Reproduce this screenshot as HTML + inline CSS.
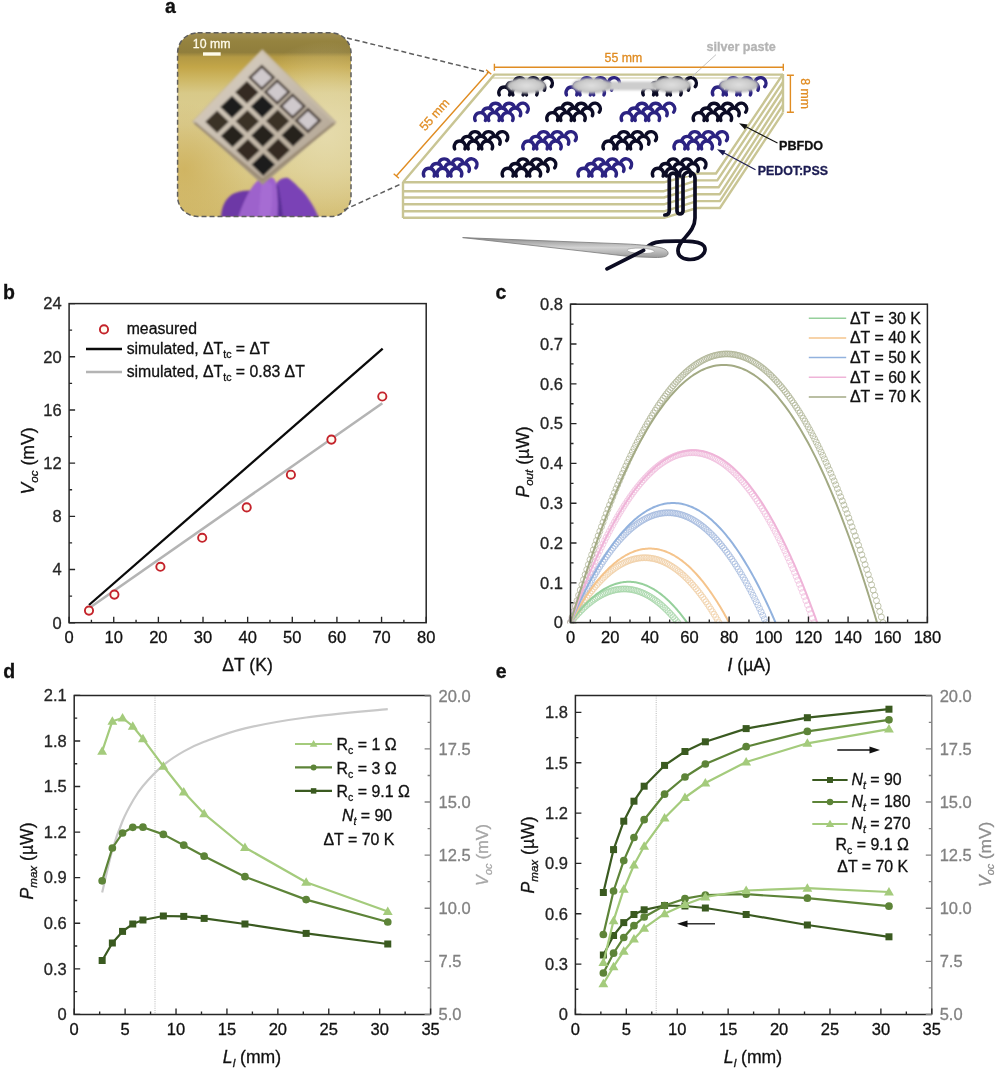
<!DOCTYPE html>
<html lang="en"><head><meta charset="utf-8"><title>Figure</title>
<style>html,body{margin:0;padding:0;background:#fff}svg{display:block}text{font-family:"Liberation Sans", sans-serif}</style></head><body>
<svg width="1000" height="1071" viewBox="0 0 1000 1071" fill="#111">
<rect width="1000" height="1071" fill="#fff"/>
<text x="165" y="12.9" font-size="19.5" font-weight="bold" stroke="#111" stroke-width="0.3">a</text>
<text x="3.0" y="298.5" font-size="19.5" font-weight="bold" stroke="#111" stroke-width="0.3">b</text>
<text x="495.6" y="298.5" font-size="19.5" font-weight="bold" stroke="#111" stroke-width="0.3">c</text>
<text x="3.2" y="677.6" font-size="19.5" font-weight="bold" stroke="#111" stroke-width="0.3">d</text>
<text x="495.8" y="677.6" font-size="19.5" font-weight="bold" stroke="#111" stroke-width="0.3">e</text>
<g id="panel-a">
<defs>
<clipPath id="photoclip"><rect x="177.6" y="32.8" width="173.4" height="183.7" rx="20" ry="20"/></clipPath>
<linearGradient id="bgv" x1="0" y1="0" x2="0" y2="1">
<stop offset="0" stop-color="#a18f55"/><stop offset="0.05" stop-color="#95833f"/><stop offset="0.11" stop-color="#907e3c"/><stop offset="0.135" stop-color="#b39944"/>
<stop offset="0.19" stop-color="#c3a648"/><stop offset="0.25" stop-color="#cdb662"/><stop offset="0.33" stop-color="#d8c988"/><stop offset="0.5" stop-color="#dccf95"/>
<stop offset="0.75" stop-color="#dac987"/><stop offset="1" stop-color="#d2bb6e"/></linearGradient>
<radialGradient id="bgr" cx="0.85" cy="0.55" r="0.5"><stop offset="0" stop-color="#e6dcae" stop-opacity="0.9"/><stop offset="1" stop-color="#e6dcae" stop-opacity="0"/></radialGradient>
<radialGradient id="bgl" cx="0.04" cy="0.74" r="0.36"><stop offset="0" stop-color="#caa94e" stop-opacity="0.65"/><stop offset="1" stop-color="#caa94e" stop-opacity="0"/></radialGradient>
<filter id="blur1" x="-10%" y="-10%" width="120%" height="120%"><feGaussianBlur stdDeviation="0.8"/></filter>
<filter id="blur2" x="-20%" y="-20%" width="140%" height="140%"><feGaussianBlur stdDeviation="1.6"/></filter>
<filter id="blur3" x="-20%" y="-20%" width="140%" height="140%"><feGaussianBlur stdDeviation="3"/></filter>
<linearGradient id="glove" x1="0" y1="0" x2="1" y2="1"><stop offset="0" stop-color="#9a66d6"/><stop offset="0.5" stop-color="#7a45be"/><stop offset="1" stop-color="#4d2a8c"/></linearGradient>
<linearGradient id="cloth" x1="0" y1="0" x2="1" y2="1"><stop offset="0" stop-color="#ddd5c9"/><stop offset="0.5" stop-color="#c6bbac"/><stop offset="1" stop-color="#ad9f8c"/></linearGradient>
<radialGradient id="silver" cx="0.5" cy="0.5" r="0.5"><stop offset="0" stop-color="#e0e0e0"/><stop offset="0.7" stop-color="#cacaca"/><stop offset="1" stop-color="#b0b0b0"/></radialGradient>
<linearGradient id="needle" x1="0" y1="0" x2="0" y2="1"><stop offset="0" stop-color="#8c8c8c"/><stop offset="0.5" stop-color="#d2d2d2"/><stop offset="1" stop-color="#9a9a9a"/></linearGradient>
</defs>
<g clip-path="url(#photoclip)">
<rect x="177" y="32" width="175" height="185" fill="url(#bgv)"/>
<rect x="177" y="32" width="175" height="185" fill="url(#bgr)"/>
<rect x="177" y="32" width="175" height="185" fill="url(#bgl)"/>
<g filter="url(#blur1)">
<path d="M221 218C221 208 225 199 232 194.5C238 191 245 190.5 250 190.5L262 218Z" fill="#6d37a6"/>
<path d="M272 218L276 184C279 179 284 177 288 178C292 180 297 186 302 190.5C308 197 314 206 319 218Z" fill="#7a42b6"/>
<path d="M238 218C242 205 248 192 254 184.5C258 179.5 263 176.5 268 176.3C272.5 176.5 275.5 179.5 276.5 184C278 196 278 208 277 218Z" fill="#9d62cc"/>
<path d="M262 182C266 180 270 181 272 185C273 195 272 207 270 218H258C260 205 260 192 262 182Z" fill="#aa70d6" opacity="0.7"/>
<path d="M276.5 186C278 196 278.5 208 278 218H283C282 206 280 194 278 185Z" fill="#4d2888" opacity="0.7"/>
</g>
<g filter="url(#blur1)">
<path d="M192.6 121.6L262.5 184.7L336.2 122.3L262.5 177.5Z" fill="#a39580"/>
<path d="M262.3 49.5L336.2 122.3L262.5 181.5L192.6 121.6Z" fill="url(#cloth)" stroke="#b3a690" stroke-width="1"/>
<path d="M262.3 51.5L194.6 121.6" stroke="#d2c6b2" stroke-width="3" fill="none" opacity="0.8"/>
<path d="M262.3 51.5L334.2 122.3" stroke="#cbbda8" stroke-width="2.5" fill="none" opacity="0.7"/>
<path d="M194.6 122.6L262.5 180.0L334.2 123.3" stroke="#8c7a62" stroke-width="2.5" fill="none" opacity="0.7"/>
<path d="M261.8 66.3L273.6 77.6L261.8 88.9L250 77.6Z" fill="#cfc9cc"/>
<path d="M261.8 66.3L273.6 77.6L261.8 88.9L250 77.6Z" fill="none" stroke="#514640" stroke-width="2.6"/>
<path d="M246.9 81L258.7 92.3L246.9 103.6L235.1 92.3Z" fill="#352b22"/>
<path d="M232 95.7L243.8 107L232 118.3L220.2 107Z" fill="#1f1b1a"/>
<path d="M217.1 110.4L228.9 121.7L217.1 133L205.3 121.7Z" fill="#3b3026"/>
<path d="M277.2 80.6L289 91.9L277.2 103.2L265.4 91.9Z" fill="#cfc9cc"/>
<path d="M277.2 80.6L289 91.9L277.2 103.2L265.4 91.9Z" fill="none" stroke="#514640" stroke-width="2.6"/>
<path d="M262.3 95.3L274.1 106.6L262.3 117.9L250.5 106.6Z" fill="#1f1b1a"/>
<path d="M247.4 110L259.2 121.3L247.4 132.6L235.6 121.3Z" fill="#3b3026"/>
<path d="M232.5 124.7L244.3 136L232.5 147.3L220.7 136Z" fill="#26211e"/>
<path d="M292.6 94.9L304.4 106.2L292.6 117.5L280.8 106.2Z" fill="#cfc9cc"/>
<path d="M292.6 94.9L304.4 106.2L292.6 117.5L280.8 106.2Z" fill="none" stroke="#514640" stroke-width="2.6"/>
<path d="M277.7 109.6L289.5 120.9L277.7 132.2L265.9 120.9Z" fill="#3b3026"/>
<path d="M262.8 124.3L274.6 135.6L262.8 146.9L251 135.6Z" fill="#26211e"/>
<path d="M247.9 139L259.7 150.3L247.9 161.6L236.1 150.3Z" fill="#352b22"/>
<path d="M308 109.2L319.8 120.5L308 131.8L296.2 120.5Z" fill="#cfc9cc"/>
<path d="M308 109.2L319.8 120.5L308 131.8L296.2 120.5Z" fill="none" stroke="#514640" stroke-width="2.6"/>
<path d="M293.1 123.9L304.9 135.2L293.1 146.5L281.3 135.2Z" fill="#26211e"/>
<path d="M278.2 138.6L290 149.9L278.2 161.2L266.4 149.9Z" fill="#352b22"/>
<path d="M263.3 153.3L275.1 164.6L263.3 175.9L251.5 164.6Z" fill="#1f1b1a"/>
</g>
<text x="192.8" y="48.2" font-size="12.3" style="fill:#fffbea" stroke="#fffbea" stroke-width="0.3">10 mm</text>
<rect x="203" y="52.3" width="17.7" height="3.4" fill="#fffbea"/>
</g>
<rect x="177.6" y="32.8" width="173.4" height="183.7" rx="20" ry="20" fill="none" stroke="#5e5e5e" stroke-width="1.5" stroke-dasharray="5 3"/>
<path d="M347 38L488 72.5M344 210L403 183" stroke="#5e5e5e" stroke-width="1.5" stroke-dasharray="5 3" fill="none"/>
<path d="M494.4 74.6L783 74.1V112.6L720 208H697L664 218H403V182.3Z" fill="#fff" stroke="none"/>
<path d="M403 182.3L494.4 74.6H783" fill="none" stroke="#c9c594" stroke-width="2.4" stroke-linejoin="round"/>
<path d="M492.9 78.0H780" fill="none" stroke="#c9c594" stroke-width="1.2"/>
<path d="M403 182.3H664L697 173.5H716L783 74.1M403 191.2H664L697 180.4H717.3L783 81.8M403 197.5H664L697 187.3H718.6L783 89.5M403 204.3H664L697 194.2H719.9L783 97.2M403 211.3H664L697 201.1H719.9L783 104.9M403 217.8H664L697 208H719.9L783 112.6" fill="none" stroke="#c9c594" stroke-width="2.4" stroke-linejoin="round"/>
<path d="M403 182.3V218M783 74.1V112.6" fill="none" stroke="#c9c594" stroke-width="2.4"/>
<g fill="#fff" stroke="#0c0c26" stroke-width="3.4" stroke-linecap="round"><path d="M514.48 85.5A5.6 5.6 0 1 1 524.72 85.5M528.08 85.5A5.6 5.6 0 1 1 538.32 85.5M541.68 85.5A5.6 5.6 0 1 1 551.21 86.67"/><path d="M506.88 90.2A5.6 5.6 0 1 1 517.12 90.2M520.48 90.2A5.6 5.6 0 1 1 530.72 90.2M534.08 90.2A5.6 5.6 0 1 1 544.32 90.2"/><path d="M499.28 94.9A5.6 5.6 0 1 1 509.52 94.9M512.88 94.9A5.6 5.6 0 1 1 523.12 94.9M526.48 94.9A5.6 5.6 0 1 1 536.72 94.9"/></g>
<g fill="#fff" stroke="#2c2382" stroke-width="3.4" stroke-linecap="round"><path d="M581.68 85.5A5.6 5.6 0 1 1 591.92 85.5M595.28 85.5A5.6 5.6 0 1 1 605.52 85.5M608.88 85.5A5.6 5.6 0 1 1 618.41 86.67"/><path d="M574.08 90.2A5.6 5.6 0 1 1 584.32 90.2M587.68 90.2A5.6 5.6 0 1 1 597.92 90.2M601.28 90.2A5.6 5.6 0 1 1 611.52 90.2"/><path d="M566.48 94.9A5.6 5.6 0 1 1 576.72 94.9M580.08 94.9A5.6 5.6 0 1 1 590.32 94.9M593.68 94.9A5.6 5.6 0 1 1 603.92 94.9"/></g>
<g fill="#fff" stroke="#0c0c26" stroke-width="3.4" stroke-linecap="round"><path d="M658.48 85.5A5.6 5.6 0 1 1 668.72 85.5M672.08 85.5A5.6 5.6 0 1 1 682.32 85.5M685.68 85.5A5.6 5.6 0 1 1 695.21 86.67"/><path d="M650.88 90.2A5.6 5.6 0 1 1 661.12 90.2M664.48 90.2A5.6 5.6 0 1 1 674.72 90.2M678.08 90.2A5.6 5.6 0 1 1 688.32 90.2"/><path d="M643.28 94.9A5.6 5.6 0 1 1 653.52 94.9M656.88 94.9A5.6 5.6 0 1 1 667.12 94.9M670.48 94.9A5.6 5.6 0 1 1 680.72 94.9"/></g>
<g fill="#fff" stroke="#2c2382" stroke-width="3.4" stroke-linecap="round"><path d="M728.08 85.5A5.6 5.6 0 1 1 738.32 85.5M741.68 85.5A5.6 5.6 0 1 1 751.92 85.5M755.28 85.5A5.6 5.6 0 1 1 764.81 86.67"/><path d="M720.48 90.2A5.6 5.6 0 1 1 730.72 90.2M734.08 90.2A5.6 5.6 0 1 1 744.32 90.2M747.68 90.2A5.6 5.6 0 1 1 757.92 90.2"/><path d="M712.88 94.9A5.6 5.6 0 1 1 723.12 94.9M726.48 94.9A5.6 5.6 0 1 1 736.72 94.9M740.08 94.9A5.6 5.6 0 1 1 750.32 94.9"/></g>
<g fill="#fff" stroke="#2c2382" stroke-width="3.4" stroke-linecap="round"><path d="M490.38 111.1A5.6 5.6 0 1 1 500.62 111.1M503.98 111.1A5.6 5.6 0 1 1 514.22 111.1M517.58 111.1A5.6 5.6 0 1 1 527.11 112.27"/><path d="M482.78 115.8A5.6 5.6 0 1 1 493.02 115.8M496.38 115.8A5.6 5.6 0 1 1 506.62 115.8M509.98 115.8A5.6 5.6 0 1 1 520.22 115.8"/><path d="M475.18 120.5A5.6 5.6 0 1 1 485.42 120.5M488.78 120.5A5.6 5.6 0 1 1 499.02 120.5M502.38 120.5A5.6 5.6 0 1 1 512.62 120.5"/></g>
<g fill="#fff" stroke="#0c0c26" stroke-width="3.4" stroke-linecap="round"><path d="M562.48 111.1A5.6 5.6 0 1 1 572.72 111.1M576.08 111.1A5.6 5.6 0 1 1 586.32 111.1M589.68 111.1A5.6 5.6 0 1 1 599.21 112.27"/><path d="M554.88 115.8A5.6 5.6 0 1 1 565.12 115.8M568.48 115.8A5.6 5.6 0 1 1 578.72 115.8M582.08 115.8A5.6 5.6 0 1 1 592.32 115.8"/><path d="M547.28 120.5A5.6 5.6 0 1 1 557.52 120.5M560.88 120.5A5.6 5.6 0 1 1 571.12 120.5M574.48 120.5A5.6 5.6 0 1 1 584.72 120.5"/></g>
<g fill="#fff" stroke="#2c2382" stroke-width="3.4" stroke-linecap="round"><path d="M636.88 111.1A5.6 5.6 0 1 1 647.12 111.1M650.48 111.1A5.6 5.6 0 1 1 660.72 111.1M664.08 111.1A5.6 5.6 0 1 1 673.61 112.27"/><path d="M629.28 115.8A5.6 5.6 0 1 1 639.52 115.8M642.88 115.8A5.6 5.6 0 1 1 653.12 115.8M656.48 115.8A5.6 5.6 0 1 1 666.72 115.8"/><path d="M621.68 120.5A5.6 5.6 0 1 1 631.92 120.5M635.28 120.5A5.6 5.6 0 1 1 645.52 120.5M648.88 120.5A5.6 5.6 0 1 1 659.12 120.5"/></g>
<g fill="#fff" stroke="#0c0c26" stroke-width="3.4" stroke-linecap="round"><path d="M708.88 111.1A5.6 5.6 0 1 1 719.12 111.1M722.48 111.1A5.6 5.6 0 1 1 732.72 111.1M736.08 111.1A5.6 5.6 0 1 1 745.61 112.27"/><path d="M701.28 115.8A5.6 5.6 0 1 1 711.52 115.8M714.88 115.8A5.6 5.6 0 1 1 725.12 115.8M728.48 115.8A5.6 5.6 0 1 1 738.72 115.8"/><path d="M693.68 120.5A5.6 5.6 0 1 1 703.92 120.5M707.28 120.5A5.6 5.6 0 1 1 717.52 120.5M720.88 120.5A5.6 5.6 0 1 1 731.12 120.5"/></g>
<g fill="#fff" stroke="#0c0c26" stroke-width="3.4" stroke-linecap="round"><path d="M469.88 139.5A5.6 5.6 0 1 1 480.12 139.5M483.48 139.5A5.6 5.6 0 1 1 493.72 139.5M497.08 139.5A5.6 5.6 0 1 1 506.61 140.67"/><path d="M462.28 144.2A5.6 5.6 0 1 1 472.52 144.2M475.88 144.2A5.6 5.6 0 1 1 486.12 144.2M489.48 144.2A5.6 5.6 0 1 1 499.72 144.2"/><path d="M454.68 148.9A5.6 5.6 0 1 1 464.92 148.9M468.28 148.9A5.6 5.6 0 1 1 478.52 148.9M481.88 148.9A5.6 5.6 0 1 1 492.12 148.9"/></g>
<g fill="#fff" stroke="#2c2382" stroke-width="3.4" stroke-linecap="round"><path d="M538.48 139.5A5.6 5.6 0 1 1 548.72 139.5M552.08 139.5A5.6 5.6 0 1 1 562.32 139.5M565.68 139.5A5.6 5.6 0 1 1 575.21 140.67"/><path d="M530.88 144.2A5.6 5.6 0 1 1 541.12 144.2M544.48 144.2A5.6 5.6 0 1 1 554.72 144.2M558.08 144.2A5.6 5.6 0 1 1 568.32 144.2"/><path d="M523.28 148.9A5.6 5.6 0 1 1 533.52 148.9M536.88 148.9A5.6 5.6 0 1 1 547.12 148.9M550.48 148.9A5.6 5.6 0 1 1 560.72 148.9"/></g>
<g fill="#fff" stroke="#0c0c26" stroke-width="3.4" stroke-linecap="round"><path d="M618.68 139.5A5.6 5.6 0 1 1 628.92 139.5M632.28 139.5A5.6 5.6 0 1 1 642.52 139.5M645.88 139.5A5.6 5.6 0 1 1 655.41 140.67"/><path d="M611.08 144.2A5.6 5.6 0 1 1 621.32 144.2M624.68 144.2A5.6 5.6 0 1 1 634.92 144.2M638.28 144.2A5.6 5.6 0 1 1 648.52 144.2"/><path d="M603.48 148.9A5.6 5.6 0 1 1 613.72 148.9M617.08 148.9A5.6 5.6 0 1 1 627.32 148.9M630.68 148.9A5.6 5.6 0 1 1 640.92 148.9"/></g>
<g fill="#fff" stroke="#2c2382" stroke-width="3.4" stroke-linecap="round"><path d="M689.68 139.5A5.6 5.6 0 1 1 699.92 139.5M703.28 139.5A5.6 5.6 0 1 1 713.52 139.5M716.88 139.5A5.6 5.6 0 1 1 726.41 140.67"/><path d="M682.08 144.2A5.6 5.6 0 1 1 692.32 144.2M695.68 144.2A5.6 5.6 0 1 1 705.92 144.2M709.28 144.2A5.6 5.6 0 1 1 719.52 144.2"/><path d="M674.48 148.9A5.6 5.6 0 1 1 684.72 148.9M688.08 148.9A5.6 5.6 0 1 1 698.32 148.9M701.68 148.9A5.6 5.6 0 1 1 711.92 148.9"/></g>
<g fill="#fff" stroke="#2c2382" stroke-width="3.4" stroke-linecap="round"><path d="M439.08 166.7A5.6 5.6 0 1 1 449.32 166.7M452.68 166.7A5.6 5.6 0 1 1 462.92 166.7M466.28 166.7A5.6 5.6 0 1 1 475.81 167.87"/><path d="M431.48 171.4A5.6 5.6 0 1 1 441.72 171.4M445.08 171.4A5.6 5.6 0 1 1 455.32 171.4M458.68 171.4A5.6 5.6 0 1 1 468.92 171.4"/><path d="M423.88 176.1A5.6 5.6 0 1 1 434.12 176.1M437.48 176.1A5.6 5.6 0 1 1 447.72 176.1M451.08 176.1A5.6 5.6 0 1 1 461.32 176.1"/></g>
<g fill="#fff" stroke="#0c0c26" stroke-width="3.4" stroke-linecap="round"><path d="M517.88 166.7A5.6 5.6 0 1 1 528.12 166.7M531.48 166.7A5.6 5.6 0 1 1 541.72 166.7M545.08 166.7A5.6 5.6 0 1 1 554.61 167.87"/><path d="M510.28 171.4A5.6 5.6 0 1 1 520.52 171.4M523.88 171.4A5.6 5.6 0 1 1 534.12 171.4M537.48 171.4A5.6 5.6 0 1 1 547.72 171.4"/><path d="M502.68 176.1A5.6 5.6 0 1 1 512.92 176.1M516.28 176.1A5.6 5.6 0 1 1 526.52 176.1M529.88 176.1A5.6 5.6 0 1 1 540.12 176.1"/></g>
<g fill="#fff" stroke="#2c2382" stroke-width="3.4" stroke-linecap="round"><path d="M593.68 166.7A5.6 5.6 0 1 1 603.92 166.7M607.28 166.7A5.6 5.6 0 1 1 617.52 166.7M620.88 166.7A5.6 5.6 0 1 1 630.41 167.87"/><path d="M586.08 171.4A5.6 5.6 0 1 1 596.32 171.4M599.68 171.4A5.6 5.6 0 1 1 609.92 171.4M613.28 171.4A5.6 5.6 0 1 1 623.52 171.4"/><path d="M578.48 176.1A5.6 5.6 0 1 1 588.72 176.1M592.08 176.1A5.6 5.6 0 1 1 602.32 176.1M605.68 176.1A5.6 5.6 0 1 1 615.92 176.1"/></g>
<g fill="#fff" stroke="#0c0c26" stroke-width="3.4" stroke-linecap="round"><path d="M668.08 166.7A5.6 5.6 0 1 1 678.32 166.7M681.68 166.7A5.6 5.6 0 1 1 691.92 166.7M695.28 166.7A5.6 5.6 0 1 1 704.81 167.87"/><path d="M660.48 171.4A5.6 5.6 0 1 1 670.72 171.4M674.08 171.4A5.6 5.6 0 1 1 684.32 171.4M687.68 171.4A5.6 5.6 0 1 1 697.92 171.4"/><path d="M652.88 176.1A5.6 5.6 0 1 1 663.12 176.1M666.48 176.1A5.6 5.6 0 1 1 676.72 176.1M680.08 176.1A5.6 5.6 0 1 1 690.32 176.1"/></g>
<g filter="url(#blur1)">
<rect x="596" y="81.6" width="78" height="8.6" rx="4" fill="#cdcdcd"/>
<ellipse cx="526.5" cy="85.6" rx="19.5" ry="7.8" fill="url(#silver)"/>
<ellipse cx="591.5" cy="85.6" rx="19.5" ry="7.8" fill="url(#silver)"/>
<ellipse cx="671.8" cy="84.8" rx="19.5" ry="7.8" fill="url(#silver)"/>
<ellipse cx="739" cy="84.8" rx="19.5" ry="7.8" fill="url(#silver)"/>
</g>
<text x="706.4" y="51.4" font-size="12.6" font-weight="bold" style="fill:#b4b4b4" stroke="#b4b4b4" stroke-width="0.3">silver paste</text>
<path d="M716 54.6L692 76.6" stroke="#c4c4c4" stroke-width="1"/>
<path d="M494.4 67.3H783.3M494.4 63.8v7M783.3 63.8v7" stroke="#e08c22" stroke-width="1.4" fill="none"/>
<text x="623.4" y="62.2" text-anchor="middle" font-size="12.3" style="fill:#e08c22" stroke="#e08c22" stroke-width="0.3">55 mm</text>
<path d="M488.7 72L396.3 176M486.1 69.7l5.2 4.6M393.7 173.7l5.2 4.6" stroke="#e08c22" stroke-width="1.4" fill="none"/>
<text transform="translate(437.5 117.5) rotate(-48.4)" text-anchor="middle" font-size="12.3" style="fill:#e08c22" stroke="#e08c22" stroke-width="0.3">55 mm</text>
<path d="M790.4 75.2V112.2M786.9 75.2h7M786.9 112.2h7" stroke="#e08c22" stroke-width="1.4" fill="none"/>
<text transform="translate(800.5 93.7) rotate(90)" text-anchor="middle" font-size="12.3" style="fill:#e08c22" stroke="#e08c22" stroke-width="0.3">8 mm</text>
<path d="M777.5 143L743.5 125.5" stroke="#111" stroke-width="1.1"/><path d="M739 123.2L747.6 124.4L745 129.4Z" fill="#111"/>
<text x="779" y="150" font-size="12.6" font-weight="bold" style="fill:#111" stroke="#111" stroke-width="0.3">PBFDO</text>
<path d="M755.5 169.8L721.4 151.6" stroke="#1b1b52" stroke-width="1.1"/><path d="M717 149.3L725.6 150.6L723 155.6Z" fill="#1b1b52"/>
<text x="757.7" y="175.3" font-size="12.4" font-weight="bold" style="fill:#1b1b52" stroke="#1b1b52" stroke-width="0.3">PEDOT:PSS</text>
<path d="M664.8 215C667.6 215 669.3 213.4 669.3 210.4V177a3.85 3.85 0 0 1 7.7 0V211a3 3 0 0 0 6 0V178a6 6 0 0 1 12 0V218C695 228 688 234 683 240C678 246 676.6 252 680 256C684 260 692 260.4 698 258C704 255.6 706.6 250 704 246C701 242 694 241.4 686 241.2C676 241 664 240.6 656 242.4C650 244 647 246.4 644 250.4" fill="none" stroke="#0c0c22" stroke-width="3.7" stroke-linecap="round" stroke-linejoin="round"/>
<path d="M462.6 237.6L625 243.9C640 244.6 655 246 662 248C666.5 249.4 668.6 251.6 668 254C667.2 256.8 662 257.6 655 257.5C645 257.4 635 256.8 625 256L580 250.8Z" fill="url(#needle)" stroke="#7a7a7a" stroke-width="0.8" stroke-linejoin="round"/>
<ellipse cx="640.7" cy="250.8" rx="13.6" ry="2.7" fill="#fff" stroke="#8a8a8a" stroke-width="0.6" transform="rotate(2.5 640.7 250.8)"/>
<path d="M643.6 250.4L607 268.8" fill="none" stroke="#0c0c22" stroke-width="3.7" stroke-linecap="round"/>
</g>
<g id="panel-b">
<path d="M89 605L382.7 348.7" fill="none" stroke="#0a0a0a" stroke-width="2.3" stroke-linejoin="round" />
<path d="M89 608.3L382.3 403.3" fill="none" stroke="#b4b4b4" stroke-width="2.6" stroke-linejoin="round" />
<circle cx="89" cy="610.6" r="4.1" fill="#fffdf2" stroke="#c4232b" stroke-width="1.9"/>
<circle cx="114.4" cy="594.6" r="4.1" fill="#fffdf2" stroke="#c4232b" stroke-width="1.9"/>
<circle cx="160.4" cy="566.8" r="4.1" fill="#fffdf2" stroke="#c4232b" stroke-width="1.9"/>
<circle cx="202.2" cy="537.8" r="4.1" fill="#fffdf2" stroke="#c4232b" stroke-width="1.9"/>
<circle cx="246.7" cy="507.4" r="4.1" fill="#fffdf2" stroke="#c4232b" stroke-width="1.9"/>
<circle cx="290.9" cy="474.7" r="4.1" fill="#fffdf2" stroke="#c4232b" stroke-width="1.9"/>
<circle cx="331.4" cy="439.6" r="4.1" fill="#fffdf2" stroke="#c4232b" stroke-width="1.9"/>
<circle cx="382.3" cy="396.5" r="4.1" fill="#fffdf2" stroke="#c4232b" stroke-width="1.9"/>
<rect x="69.1" y="303.6" width="357.1" height="319.1" fill="none" stroke="#262626" stroke-width="1.5"/>
<text x="69.1" y="642.9" text-anchor="middle" font-size="16.5" stroke="#111" stroke-width="0.3">0</text>
<text x="113.74" y="642.9" text-anchor="middle" font-size="16.5" stroke="#111" stroke-width="0.3">10</text>
<text x="158.38" y="642.9" text-anchor="middle" font-size="16.5" stroke="#111" stroke-width="0.3">20</text>
<text x="203.01" y="642.9" text-anchor="middle" font-size="16.5" stroke="#111" stroke-width="0.3">30</text>
<text x="247.65" y="642.9" text-anchor="middle" font-size="16.5" stroke="#111" stroke-width="0.3">40</text>
<text x="292.29" y="642.9" text-anchor="middle" font-size="16.5" stroke="#111" stroke-width="0.3">50</text>
<text x="336.92" y="642.9" text-anchor="middle" font-size="16.5" stroke="#111" stroke-width="0.3">60</text>
<text x="381.56" y="642.9" text-anchor="middle" font-size="16.5" stroke="#111" stroke-width="0.3">70</text>
<text x="426.2" y="642.9" text-anchor="middle" font-size="16.5" stroke="#111" stroke-width="0.3">80</text>
<path d="M69.1 622.7v-6M91.42 622.7v-3M113.74 622.7v-6M136.06 622.7v-3M158.38 622.7v-6M180.69 622.7v-3M203.01 622.7v-6M225.33 622.7v-3M247.65 622.7v-6M269.97 622.7v-3M292.29 622.7v-6M314.61 622.7v-3M336.92 622.7v-6M359.24 622.7v-3M381.56 622.7v-6M403.88 622.7v-3M426.2 622.7v-6" stroke="#262626" stroke-width="1.35" fill="none"/>
<text x="61.6" y="628.5" text-anchor="end" font-size="16.5" fill="#262626" stroke="#262626" stroke-width="0.3">0</text>
<text x="61.6" y="575.32" text-anchor="end" font-size="16.5" fill="#262626" stroke="#262626" stroke-width="0.3">4</text>
<text x="61.6" y="522.13" text-anchor="end" font-size="16.5" fill="#262626" stroke="#262626" stroke-width="0.3">8</text>
<text x="61.6" y="468.95" text-anchor="end" font-size="16.5" fill="#262626" stroke="#262626" stroke-width="0.3">12</text>
<text x="61.6" y="415.77" text-anchor="end" font-size="16.5" fill="#262626" stroke="#262626" stroke-width="0.3">16</text>
<text x="61.6" y="362.58" text-anchor="end" font-size="16.5" fill="#262626" stroke="#262626" stroke-width="0.3">20</text>
<text x="61.6" y="309.4" text-anchor="end" font-size="16.5" fill="#262626" stroke="#262626" stroke-width="0.3">24</text>
<path d="M69.1 622.7h6M69.1 596.11h3M69.1 569.52h6M69.1 542.93h3M69.1 516.33h6M69.1 489.74h3M69.1 463.15h6M69.1 436.56h3M69.1 409.97h6M69.1 383.38h3M69.1 356.78h6M69.1 330.19h3M69.1 303.6h6" stroke="#262626" stroke-width="1.35" fill="none"/>
<circle cx="104" cy="329.4" r="4.1" fill="#fffdf2" stroke="#c4232b" stroke-width="1.9"/>
<path d="M86 349H122" stroke="#0a0a0a" stroke-width="2.3"/>
<path d="M86 372H122" stroke="#b4b4b4" stroke-width="2.6"/>
<text x="126.7" y="334.2" font-size="15.8" stroke="#111" stroke-width="0.3">measured</text>
<text x="126.7" y="354.4" font-size="15.8" stroke="#111" stroke-width="0.3">simulated, ΔT<tspan font-size="10.5" dy="4">tc</tspan><tspan dy="-4"> = ΔT</tspan></text>
<text x="126.7" y="377" font-size="15.8" stroke="#111" stroke-width="0.3">simulated, ΔT<tspan font-size="10.5" dy="4">tc</tspan><tspan dy="-4"> = 0.83 ΔT</tspan></text>
<text x="247.5" y="670.8" text-anchor="middle" font-size="17.6" stroke="#111" stroke-width="0.3">ΔT (K)</text>
<text transform="translate(34.3 461) rotate(-90)" text-anchor="middle" font-size="17.6" stroke="#111" stroke-width="0.3"><tspan font-style="italic">V</tspan><tspan font-style="italic" font-size="11.6" dy="3.8">oc</tspan><tspan dy="-3.8"> (mV)</tspan></text>
</g>
<g id="panel-c">
<clipPath id="clipc"><rect x="566.5" y="304.2" width="364.9" height="319"/></clipPath>
<g clip-path="url(#clipc)">
<g fill="none" stroke="#a6d6a8" stroke-width="0.75"><circle cx="570.5" cy="622.6" r="3"/><circle cx="572.13" cy="620.59" r="3"/><circle cx="573.76" cy="618.65" r="3"/><circle cx="575.38" cy="616.76" r="3"/><circle cx="577.01" cy="614.94" r="3"/><circle cx="578.64" cy="613.18" r="3"/><circle cx="580.27" cy="611.48" r="3"/><circle cx="581.9" cy="609.85" r="3"/><circle cx="583.53" cy="608.27" r="3"/><circle cx="585.15" cy="606.76" r="3"/><circle cx="586.78" cy="605.31" r="3"/><circle cx="588.41" cy="603.92" r="3"/><circle cx="590.04" cy="602.59" r="3"/><circle cx="591.67" cy="601.32" r="3"/><circle cx="593.3" cy="600.12" r="3"/><circle cx="594.92" cy="598.97" r="3"/><circle cx="596.55" cy="597.89" r="3"/><circle cx="598.18" cy="596.87" r="3"/><circle cx="599.81" cy="595.92" r="3"/><circle cx="601.44" cy="595.02" r="3"/><circle cx="603.07" cy="594.19" r="3"/><circle cx="604.69" cy="593.42" r="3"/><circle cx="606.32" cy="592.71" r="3"/><circle cx="607.95" cy="592.06" r="3"/><circle cx="609.58" cy="591.47" r="3"/><circle cx="611.21" cy="590.95" r="3"/><circle cx="612.84" cy="590.48" r="3"/><circle cx="614.46" cy="590.08" r="3"/><circle cx="616.09" cy="589.74" r="3"/><circle cx="617.72" cy="589.46" r="3"/><circle cx="619.35" cy="589.25" r="3"/><circle cx="620.98" cy="589.09" r="3"/><circle cx="622.6" cy="589" r="3"/><circle cx="624.23" cy="588.97" r="3"/><circle cx="625.86" cy="589" r="3"/><circle cx="627.49" cy="589.09" r="3"/><circle cx="629.12" cy="589.25" r="3"/><circle cx="630.75" cy="589.46" r="3"/><circle cx="632.37" cy="589.74" r="3"/><circle cx="634" cy="590.08" r="3"/><circle cx="635.63" cy="590.48" r="3"/><circle cx="637.26" cy="590.95" r="3"/><circle cx="638.89" cy="591.47" r="3"/><circle cx="640.52" cy="592.06" r="3"/><circle cx="642.14" cy="592.71" r="3"/><circle cx="643.77" cy="593.42" r="3"/><circle cx="645.4" cy="594.19" r="3"/><circle cx="647.03" cy="595.02" r="3"/><circle cx="648.66" cy="595.92" r="3"/><circle cx="650.29" cy="596.87" r="3"/><circle cx="651.91" cy="597.89" r="3"/><circle cx="653.54" cy="598.97" r="3"/><circle cx="655.17" cy="600.12" r="3"/><circle cx="656.8" cy="601.32" r="3"/><circle cx="658.43" cy="602.59" r="3"/><circle cx="660.06" cy="603.92" r="3"/><circle cx="661.68" cy="605.31" r="3"/><circle cx="663.31" cy="606.76" r="3"/><circle cx="664.94" cy="608.27" r="3"/><circle cx="666.57" cy="609.85" r="3"/><circle cx="668.2" cy="611.48" r="3"/><circle cx="669.83" cy="613.18" r="3"/><circle cx="671.45" cy="614.94" r="3"/><circle cx="673.08" cy="616.76" r="3"/><circle cx="674.71" cy="618.65" r="3"/><circle cx="676.34" cy="620.59" r="3"/><circle cx="677.97" cy="622.6" r="3"/></g>
<g fill="none" stroke="#f0cfa5" stroke-width="0.75"><circle cx="570.5" cy="622.6" r="3"/><circle cx="572.13" cy="619.78" r="3"/><circle cx="573.76" cy="617.02" r="3"/><circle cx="575.4" cy="614.33" r="3"/><circle cx="577.03" cy="611.69" r="3"/><circle cx="578.66" cy="609.13" r="3"/><circle cx="580.29" cy="606.62" r="3"/><circle cx="581.92" cy="604.17" r="3"/><circle cx="583.56" cy="601.79" r="3"/><circle cx="585.19" cy="599.47" r="3"/><circle cx="586.82" cy="597.22" r="3"/><circle cx="588.45" cy="595.02" r="3"/><circle cx="590.08" cy="592.89" r="3"/><circle cx="591.72" cy="590.82" r="3"/><circle cx="593.35" cy="588.82" r="3"/><circle cx="594.98" cy="586.88" r="3"/><circle cx="596.61" cy="585" r="3"/><circle cx="598.24" cy="583.18" r="3"/><circle cx="599.88" cy="581.42" r="3"/><circle cx="601.51" cy="579.73" r="3"/><circle cx="603.14" cy="578.1" r="3"/><circle cx="604.77" cy="576.54" r="3"/><circle cx="606.4" cy="575.03" r="3"/><circle cx="608.04" cy="573.59" r="3"/><circle cx="609.67" cy="572.21" r="3"/><circle cx="611.3" cy="570.9" r="3"/><circle cx="612.93" cy="569.64" r="3"/><circle cx="614.56" cy="568.45" r="3"/><circle cx="616.2" cy="567.32" r="3"/><circle cx="617.83" cy="566.26" r="3"/><circle cx="619.46" cy="565.25" r="3"/><circle cx="621.09" cy="564.31" r="3"/><circle cx="622.72" cy="563.44" r="3"/><circle cx="624.36" cy="562.62" r="3"/><circle cx="625.99" cy="561.87" r="3"/><circle cx="627.62" cy="561.18" r="3"/><circle cx="629.25" cy="560.55" r="3"/><circle cx="630.88" cy="559.99" r="3"/><circle cx="632.52" cy="559.49" r="3"/><circle cx="634.15" cy="559.05" r="3"/><circle cx="635.78" cy="558.67" r="3"/><circle cx="637.41" cy="558.36" r="3"/><circle cx="639.04" cy="558.11" r="3"/><circle cx="640.68" cy="557.92" r="3"/><circle cx="642.31" cy="557.8" r="3"/><circle cx="643.94" cy="557.73" r="3"/><circle cx="645.57" cy="557.73" r="3"/><circle cx="647.2" cy="557.8" r="3"/><circle cx="648.83" cy="557.92" r="3"/><circle cx="650.47" cy="558.11" r="3"/><circle cx="652.1" cy="558.36" r="3"/><circle cx="653.73" cy="558.67" r="3"/><circle cx="655.36" cy="559.05" r="3"/><circle cx="656.99" cy="559.49" r="3"/><circle cx="658.63" cy="559.99" r="3"/><circle cx="660.26" cy="560.55" r="3"/><circle cx="661.89" cy="561.18" r="3"/><circle cx="663.52" cy="561.87" r="3"/><circle cx="665.15" cy="562.62" r="3"/><circle cx="666.79" cy="563.44" r="3"/><circle cx="668.42" cy="564.31" r="3"/><circle cx="670.05" cy="565.25" r="3"/><circle cx="671.68" cy="566.26" r="3"/><circle cx="673.31" cy="567.32" r="3"/><circle cx="674.95" cy="568.45" r="3"/><circle cx="676.58" cy="569.64" r="3"/><circle cx="678.21" cy="570.9" r="3"/><circle cx="679.84" cy="572.21" r="3"/><circle cx="681.47" cy="573.59" r="3"/><circle cx="683.11" cy="575.03" r="3"/><circle cx="684.74" cy="576.54" r="3"/><circle cx="686.37" cy="578.1" r="3"/><circle cx="688" cy="579.73" r="3"/><circle cx="689.63" cy="581.42" r="3"/><circle cx="691.27" cy="583.18" r="3"/><circle cx="692.9" cy="585" r="3"/><circle cx="694.53" cy="586.88" r="3"/><circle cx="696.16" cy="588.82" r="3"/><circle cx="697.79" cy="590.82" r="3"/><circle cx="699.43" cy="592.89" r="3"/><circle cx="701.06" cy="595.02" r="3"/><circle cx="702.69" cy="597.22" r="3"/><circle cx="704.32" cy="599.47" r="3"/><circle cx="705.95" cy="601.79" r="3"/><circle cx="707.59" cy="604.17" r="3"/><circle cx="709.22" cy="606.62" r="3"/><circle cx="710.85" cy="609.13" r="3"/><circle cx="712.48" cy="611.69" r="3"/><circle cx="714.11" cy="614.33" r="3"/><circle cx="715.75" cy="617.02" r="3"/><circle cx="717.38" cy="619.78" r="3"/><circle cx="719.01" cy="622.6" r="3"/></g>
<g fill="none" stroke="#a4bade" stroke-width="0.75"><circle cx="570.5" cy="622.6" r="3"/><circle cx="572.13" cy="618.97" r="3"/><circle cx="573.76" cy="615.4" r="3"/><circle cx="575.39" cy="611.89" r="3"/><circle cx="577.02" cy="608.44" r="3"/><circle cx="578.65" cy="605.05" r="3"/><circle cx="580.28" cy="601.73" r="3"/><circle cx="581.9" cy="598.46" r="3"/><circle cx="583.53" cy="595.26" r="3"/><circle cx="585.16" cy="592.12" r="3"/><circle cx="586.79" cy="589.04" r="3"/><circle cx="588.42" cy="586.01" r="3"/><circle cx="590.05" cy="583.05" r="3"/><circle cx="591.68" cy="580.16" r="3"/><circle cx="593.31" cy="577.32" r="3"/><circle cx="594.94" cy="574.54" r="3"/><circle cx="596.57" cy="571.83" r="3"/><circle cx="598.2" cy="569.17" r="3"/><circle cx="599.83" cy="566.58" r="3"/><circle cx="601.45" cy="564.04" r="3"/><circle cx="603.08" cy="561.57" r="3"/><circle cx="604.71" cy="559.16" r="3"/><circle cx="606.34" cy="556.81" r="3"/><circle cx="607.97" cy="554.52" r="3"/><circle cx="609.6" cy="552.3" r="3"/><circle cx="611.23" cy="550.13" r="3"/><circle cx="612.86" cy="548.03" r="3"/><circle cx="614.49" cy="545.98" r="3"/><circle cx="616.12" cy="544" r="3"/><circle cx="617.75" cy="542.08" r="3"/><circle cx="619.38" cy="540.21" r="3"/><circle cx="621" cy="538.41" r="3"/><circle cx="622.63" cy="536.67" r="3"/><circle cx="624.26" cy="535" r="3"/><circle cx="625.89" cy="533.38" r="3"/><circle cx="627.52" cy="531.82" r="3"/><circle cx="629.15" cy="530.33" r="3"/><circle cx="630.78" cy="528.89" r="3"/><circle cx="632.41" cy="527.52" r="3"/><circle cx="634.04" cy="526.21" r="3"/><circle cx="635.67" cy="524.96" r="3"/><circle cx="637.3" cy="523.77" r="3"/><circle cx="638.93" cy="522.64" r="3"/><circle cx="640.55" cy="521.57" r="3"/><circle cx="642.18" cy="520.56" r="3"/><circle cx="643.81" cy="519.62" r="3"/><circle cx="645.44" cy="518.73" r="3"/><circle cx="647.07" cy="517.91" r="3"/><circle cx="648.7" cy="517.15" r="3"/><circle cx="650.33" cy="516.44" r="3"/><circle cx="651.96" cy="515.8" r="3"/><circle cx="653.59" cy="515.22" r="3"/><circle cx="655.22" cy="514.7" r="3"/><circle cx="656.85" cy="514.25" r="3"/><circle cx="658.48" cy="513.85" r="3"/><circle cx="660.11" cy="513.51" r="3"/><circle cx="661.73" cy="513.24" r="3"/><circle cx="663.36" cy="513.03" r="3"/><circle cx="664.99" cy="512.87" r="3"/><circle cx="666.62" cy="512.78" r="3"/><circle cx="668.25" cy="512.75" r="3"/><circle cx="669.88" cy="512.78" r="3"/><circle cx="671.51" cy="512.87" r="3"/><circle cx="673.14" cy="513.03" r="3"/><circle cx="674.77" cy="513.24" r="3"/><circle cx="676.4" cy="513.51" r="3"/><circle cx="678.03" cy="513.85" r="3"/><circle cx="679.66" cy="514.25" r="3"/><circle cx="681.28" cy="514.7" r="3"/><circle cx="682.91" cy="515.22" r="3"/><circle cx="684.54" cy="515.8" r="3"/><circle cx="686.17" cy="516.44" r="3"/><circle cx="687.8" cy="517.15" r="3"/><circle cx="689.43" cy="517.91" r="3"/><circle cx="691.06" cy="518.73" r="3"/><circle cx="692.69" cy="519.62" r="3"/><circle cx="694.32" cy="520.56" r="3"/><circle cx="695.95" cy="521.57" r="3"/><circle cx="697.58" cy="522.64" r="3"/><circle cx="699.21" cy="523.77" r="3"/><circle cx="700.83" cy="524.96" r="3"/><circle cx="702.46" cy="526.21" r="3"/><circle cx="704.09" cy="527.52" r="3"/><circle cx="705.72" cy="528.89" r="3"/><circle cx="707.35" cy="530.33" r="3"/><circle cx="708.98" cy="531.82" r="3"/><circle cx="710.61" cy="533.38" r="3"/><circle cx="712.24" cy="535" r="3"/><circle cx="713.87" cy="536.67" r="3"/><circle cx="715.5" cy="538.41" r="3"/><circle cx="717.13" cy="540.21" r="3"/><circle cx="718.76" cy="542.08" r="3"/><circle cx="720.38" cy="544" r="3"/><circle cx="722.01" cy="545.98" r="3"/><circle cx="723.64" cy="548.03" r="3"/><circle cx="725.27" cy="550.13" r="3"/><circle cx="726.9" cy="552.3" r="3"/><circle cx="728.53" cy="554.52" r="3"/><circle cx="730.16" cy="556.81" r="3"/><circle cx="731.79" cy="559.16" r="3"/><circle cx="733.42" cy="561.57" r="3"/><circle cx="735.05" cy="564.04" r="3"/><circle cx="736.68" cy="566.58" r="3"/><circle cx="738.31" cy="569.17" r="3"/><circle cx="739.93" cy="571.83" r="3"/><circle cx="741.56" cy="574.54" r="3"/><circle cx="743.19" cy="577.32" r="3"/><circle cx="744.82" cy="580.16" r="3"/><circle cx="746.45" cy="583.05" r="3"/><circle cx="748.08" cy="586.01" r="3"/><circle cx="749.71" cy="589.04" r="3"/><circle cx="751.34" cy="592.12" r="3"/><circle cx="752.97" cy="595.26" r="3"/><circle cx="754.6" cy="598.46" r="3"/><circle cx="756.23" cy="601.73" r="3"/><circle cx="757.86" cy="605.05" r="3"/><circle cx="759.49" cy="608.44" r="3"/><circle cx="761.11" cy="611.89" r="3"/><circle cx="762.74" cy="615.4" r="3"/><circle cx="764.37" cy="618.97" r="3"/><circle cx="766" cy="622.6" r="3"/></g>
<g fill="none" stroke="#f0bfdd" stroke-width="0.75"><circle cx="570.5" cy="622.6" r="3"/><circle cx="572.12" cy="618.1" r="3"/><circle cx="573.75" cy="613.66" r="3"/><circle cx="575.37" cy="609.28" r="3"/><circle cx="576.99" cy="604.96" r="3"/><circle cx="578.62" cy="600.7" r="3"/><circle cx="580.24" cy="596.5" r="3"/><circle cx="581.86" cy="592.36" r="3"/><circle cx="583.49" cy="588.28" r="3"/><circle cx="585.11" cy="584.26" r="3"/><circle cx="586.73" cy="580.3" r="3"/><circle cx="588.36" cy="576.4" r="3"/><circle cx="589.98" cy="572.57" r="3"/><circle cx="591.6" cy="568.79" r="3"/><circle cx="593.23" cy="565.08" r="3"/><circle cx="594.85" cy="561.42" r="3"/><circle cx="596.47" cy="557.82" r="3"/><circle cx="598.09" cy="554.29" r="3"/><circle cx="599.72" cy="550.81" r="3"/><circle cx="601.34" cy="547.4" r="3"/><circle cx="602.96" cy="544.05" r="3"/><circle cx="604.59" cy="540.75" r="3"/><circle cx="606.21" cy="537.52" r="3"/><circle cx="607.83" cy="534.35" r="3"/><circle cx="609.46" cy="531.24" r="3"/><circle cx="611.08" cy="528.19" r="3"/><circle cx="612.7" cy="525.19" r="3"/><circle cx="614.33" cy="522.26" r="3"/><circle cx="615.95" cy="519.39" r="3"/><circle cx="617.57" cy="516.58" r="3"/><circle cx="619.2" cy="513.83" r="3"/><circle cx="620.82" cy="511.15" r="3"/><circle cx="622.44" cy="508.52" r="3"/><circle cx="624.07" cy="505.95" r="3"/><circle cx="625.69" cy="503.44" r="3"/><circle cx="627.31" cy="500.99" r="3"/><circle cx="628.94" cy="498.61" r="3"/><circle cx="630.56" cy="496.28" r="3"/><circle cx="632.18" cy="494.02" r="3"/><circle cx="633.81" cy="491.81" r="3"/><circle cx="635.43" cy="489.66" r="3"/><circle cx="637.05" cy="487.58" r="3"/><circle cx="638.68" cy="485.56" r="3"/><circle cx="640.3" cy="483.59" r="3"/><circle cx="641.92" cy="481.69" r="3"/><circle cx="643.55" cy="479.85" r="3"/><circle cx="645.17" cy="478.06" r="3"/><circle cx="646.79" cy="476.34" r="3"/><circle cx="648.42" cy="474.68" r="3"/><circle cx="650.04" cy="473.08" r="3"/><circle cx="651.66" cy="471.54" r="3"/><circle cx="653.28" cy="470.06" r="3"/><circle cx="654.91" cy="468.64" r="3"/><circle cx="656.53" cy="467.28" r="3"/><circle cx="658.15" cy="465.98" r="3"/><circle cx="659.78" cy="464.74" r="3"/><circle cx="661.4" cy="463.56" r="3"/><circle cx="663.02" cy="462.44" r="3"/><circle cx="664.65" cy="461.39" r="3"/><circle cx="666.27" cy="460.39" r="3"/><circle cx="667.89" cy="459.45" r="3"/><circle cx="669.52" cy="458.58" r="3"/><circle cx="671.14" cy="457.76" r="3"/><circle cx="672.76" cy="457" r="3"/><circle cx="674.39" cy="456.31" r="3"/><circle cx="676.01" cy="455.68" r="3"/><circle cx="677.63" cy="455.1" r="3"/><circle cx="679.26" cy="454.59" r="3"/><circle cx="680.88" cy="454.13" r="3"/><circle cx="682.5" cy="453.74" r="3"/><circle cx="684.13" cy="453.41" r="3"/><circle cx="685.75" cy="453.14" r="3"/><circle cx="687.37" cy="452.93" r="3"/><circle cx="689" cy="452.77" r="3"/><circle cx="690.62" cy="452.68" r="3"/><circle cx="692.24" cy="452.65" r="3"/><circle cx="693.87" cy="452.68" r="3"/><circle cx="695.49" cy="452.77" r="3"/><circle cx="697.11" cy="452.93" r="3"/><circle cx="698.74" cy="453.14" r="3"/><circle cx="700.36" cy="453.41" r="3"/><circle cx="701.98" cy="453.74" r="3"/><circle cx="703.61" cy="454.13" r="3"/><circle cx="705.23" cy="454.59" r="3"/><circle cx="706.85" cy="455.1" r="3"/><circle cx="708.47" cy="455.68" r="3"/><circle cx="710.1" cy="456.31" r="3"/><circle cx="711.72" cy="457" r="3"/><circle cx="713.34" cy="457.76" r="3"/><circle cx="714.97" cy="458.58" r="3"/><circle cx="716.59" cy="459.45" r="3"/><circle cx="718.21" cy="460.39" r="3"/><circle cx="719.84" cy="461.39" r="3"/><circle cx="721.46" cy="462.44" r="3"/><circle cx="723.08" cy="463.56" r="3"/><circle cx="724.71" cy="464.74" r="3"/><circle cx="726.33" cy="465.98" r="3"/><circle cx="727.95" cy="467.28" r="3"/><circle cx="729.58" cy="468.64" r="3"/><circle cx="731.2" cy="470.06" r="3"/><circle cx="732.82" cy="471.54" r="3"/><circle cx="734.45" cy="473.08" r="3"/><circle cx="736.07" cy="474.68" r="3"/><circle cx="737.69" cy="476.34" r="3"/><circle cx="739.32" cy="478.06" r="3"/><circle cx="740.94" cy="479.85" r="3"/><circle cx="742.56" cy="481.69" r="3"/><circle cx="744.19" cy="483.59" r="3"/><circle cx="745.81" cy="485.56" r="3"/><circle cx="747.43" cy="487.58" r="3"/><circle cx="749.06" cy="489.66" r="3"/><circle cx="750.68" cy="491.81" r="3"/><circle cx="752.3" cy="494.02" r="3"/><circle cx="753.93" cy="496.28" r="3"/><circle cx="755.55" cy="498.61" r="3"/><circle cx="757.17" cy="500.99" r="3"/><circle cx="758.8" cy="503.44" r="3"/><circle cx="760.42" cy="505.95" r="3"/><circle cx="762.04" cy="508.52" r="3"/><circle cx="763.66" cy="511.15" r="3"/><circle cx="765.29" cy="513.83" r="3"/><circle cx="766.91" cy="516.58" r="3"/><circle cx="768.53" cy="519.39" r="3"/><circle cx="770.16" cy="522.26" r="3"/><circle cx="771.78" cy="525.19" r="3"/><circle cx="773.4" cy="528.19" r="3"/><circle cx="775.03" cy="531.24" r="3"/><circle cx="776.65" cy="534.35" r="3"/><circle cx="778.27" cy="537.52" r="3"/><circle cx="779.9" cy="540.75" r="3"/><circle cx="781.52" cy="544.05" r="3"/><circle cx="783.14" cy="547.4" r="3"/><circle cx="784.77" cy="550.81" r="3"/><circle cx="786.39" cy="554.29" r="3"/><circle cx="788.01" cy="557.82" r="3"/><circle cx="789.64" cy="561.42" r="3"/><circle cx="791.26" cy="565.08" r="3"/><circle cx="792.88" cy="568.79" r="3"/><circle cx="794.51" cy="572.57" r="3"/><circle cx="796.13" cy="576.4" r="3"/><circle cx="797.75" cy="580.3" r="3"/><circle cx="799.38" cy="584.26" r="3"/><circle cx="801" cy="588.28" r="3"/><circle cx="802.62" cy="592.36" r="3"/><circle cx="804.25" cy="596.5" r="3"/><circle cx="805.87" cy="600.7" r="3"/><circle cx="807.49" cy="604.96" r="3"/><circle cx="809.12" cy="609.28" r="3"/><circle cx="810.74" cy="613.66" r="3"/><circle cx="812.36" cy="618.1" r="3"/><circle cx="813.99" cy="622.6" r="3"/></g>
<g fill="none" stroke="#adb394" stroke-width="0.75"><circle cx="570.5" cy="622.6" r="3"/><circle cx="572.13" cy="617.03" r="3"/><circle cx="573.76" cy="611.52" r="3"/><circle cx="575.38" cy="606.07" r="3"/><circle cx="577.01" cy="600.68" r="3"/><circle cx="578.64" cy="595.34" r="3"/><circle cx="580.27" cy="590.07" r="3"/><circle cx="581.89" cy="584.85" r="3"/><circle cx="583.52" cy="579.69" r="3"/><circle cx="585.15" cy="574.59" r="3"/><circle cx="586.78" cy="569.55" r="3"/><circle cx="588.4" cy="564.56" r="3"/><circle cx="590.03" cy="559.64" r="3"/><circle cx="591.66" cy="554.77" r="3"/><circle cx="593.29" cy="549.96" r="3"/><circle cx="594.91" cy="545.21" r="3"/><circle cx="596.54" cy="540.51" r="3"/><circle cx="598.17" cy="535.88" r="3"/><circle cx="599.8" cy="531.3" r="3"/><circle cx="601.42" cy="526.78" r="3"/><circle cx="603.05" cy="522.32" r="3"/><circle cx="604.68" cy="517.92" r="3"/><circle cx="606.31" cy="513.58" r="3"/><circle cx="607.93" cy="509.29" r="3"/><circle cx="609.56" cy="505.07" r="3"/><circle cx="611.19" cy="500.9" r="3"/><circle cx="612.82" cy="496.79" r="3"/><circle cx="614.44" cy="492.74" r="3"/><circle cx="616.07" cy="488.74" r="3"/><circle cx="617.7" cy="484.81" r="3"/><circle cx="619.33" cy="480.93" r="3"/><circle cx="620.95" cy="477.11" r="3"/><circle cx="622.58" cy="473.35" r="3"/><circle cx="624.21" cy="469.65" r="3"/><circle cx="625.84" cy="466" r="3"/><circle cx="627.46" cy="462.42" r="3"/><circle cx="629.09" cy="458.89" r="3"/><circle cx="630.72" cy="455.42" r="3"/><circle cx="632.35" cy="452.01" r="3"/><circle cx="633.97" cy="448.66" r="3"/><circle cx="635.6" cy="445.37" r="3"/><circle cx="637.23" cy="442.13" r="3"/><circle cx="638.86" cy="438.95" r="3"/><circle cx="640.48" cy="435.83" r="3"/><circle cx="642.11" cy="432.77" r="3"/><circle cx="643.74" cy="429.77" r="3"/><circle cx="645.37" cy="426.83" r="3"/><circle cx="646.99" cy="423.94" r="3"/><circle cx="648.62" cy="421.11" r="3"/><circle cx="650.25" cy="418.34" r="3"/><circle cx="651.88" cy="415.63" r="3"/><circle cx="653.5" cy="412.98" r="3"/><circle cx="655.13" cy="410.39" r="3"/><circle cx="656.76" cy="407.85" r="3"/><circle cx="658.39" cy="405.37" r="3"/><circle cx="660.01" cy="402.95" r="3"/><circle cx="661.64" cy="400.59" r="3"/><circle cx="663.27" cy="398.29" r="3"/><circle cx="664.9" cy="396.04" r="3"/><circle cx="666.52" cy="393.86" r="3"/><circle cx="668.15" cy="391.73" r="3"/><circle cx="669.78" cy="389.66" r="3"/><circle cx="671.41" cy="387.65" r="3"/><circle cx="673.03" cy="385.69" r="3"/><circle cx="674.66" cy="383.8" r="3"/><circle cx="676.29" cy="381.96" r="3"/><circle cx="677.92" cy="380.19" r="3"/><circle cx="679.54" cy="378.47" r="3"/><circle cx="681.17" cy="376.8" r="3"/><circle cx="682.8" cy="375.2" r="3"/><circle cx="684.43" cy="373.66" r="3"/><circle cx="686.05" cy="372.17" r="3"/><circle cx="687.68" cy="370.74" r="3"/><circle cx="689.31" cy="369.37" r="3"/><circle cx="690.94" cy="368.06" r="3"/><circle cx="692.56" cy="366.81" r="3"/><circle cx="694.19" cy="365.61" r="3"/><circle cx="695.82" cy="364.47" r="3"/><circle cx="697.45" cy="363.39" r="3"/><circle cx="699.07" cy="362.37" r="3"/><circle cx="700.7" cy="361.41" r="3"/><circle cx="702.33" cy="360.51" r="3"/><circle cx="703.96" cy="359.66" r="3"/><circle cx="705.58" cy="358.88" r="3"/><circle cx="707.21" cy="358.15" r="3"/><circle cx="708.84" cy="357.48" r="3"/><circle cx="710.47" cy="356.87" r="3"/><circle cx="712.1" cy="356.31" r="3"/><circle cx="713.72" cy="355.82" r="3"/><circle cx="715.35" cy="355.38" r="3"/><circle cx="716.98" cy="355" r="3"/><circle cx="718.61" cy="354.68" r="3"/><circle cx="720.23" cy="354.42" r="3"/><circle cx="721.86" cy="354.21" r="3"/><circle cx="723.49" cy="354.07" r="3"/><circle cx="725.12" cy="353.98" r="3"/><circle cx="726.74" cy="353.95" r="3"/><circle cx="728.37" cy="353.98" r="3"/><circle cx="730" cy="354.07" r="3"/><circle cx="731.63" cy="354.21" r="3"/><circle cx="733.25" cy="354.42" r="3"/><circle cx="734.88" cy="354.68" r="3"/><circle cx="736.51" cy="355" r="3"/><circle cx="738.14" cy="355.38" r="3"/><circle cx="739.76" cy="355.82" r="3"/><circle cx="741.39" cy="356.31" r="3"/><circle cx="743.02" cy="356.87" r="3"/><circle cx="744.65" cy="357.48" r="3"/><circle cx="746.27" cy="358.15" r="3"/><circle cx="747.9" cy="358.88" r="3"/><circle cx="749.53" cy="359.66" r="3"/><circle cx="751.16" cy="360.51" r="3"/><circle cx="752.78" cy="361.41" r="3"/><circle cx="754.41" cy="362.37" r="3"/><circle cx="756.04" cy="363.39" r="3"/><circle cx="757.67" cy="364.47" r="3"/><circle cx="759.29" cy="365.61" r="3"/><circle cx="760.92" cy="366.81" r="3"/><circle cx="762.55" cy="368.06" r="3"/><circle cx="764.18" cy="369.37" r="3"/><circle cx="765.8" cy="370.74" r="3"/><circle cx="767.43" cy="372.17" r="3"/><circle cx="769.06" cy="373.66" r="3"/><circle cx="770.69" cy="375.2" r="3"/><circle cx="772.31" cy="376.8" r="3"/><circle cx="773.94" cy="378.47" r="3"/><circle cx="775.57" cy="380.19" r="3"/><circle cx="777.2" cy="381.96" r="3"/><circle cx="778.82" cy="383.8" r="3"/><circle cx="780.45" cy="385.69" r="3"/><circle cx="782.08" cy="387.65" r="3"/><circle cx="783.71" cy="389.66" r="3"/><circle cx="785.33" cy="391.73" r="3"/><circle cx="786.96" cy="393.86" r="3"/><circle cx="788.59" cy="396.04" r="3"/><circle cx="790.22" cy="398.29" r="3"/><circle cx="791.84" cy="400.59" r="3"/><circle cx="793.47" cy="402.95" r="3"/><circle cx="795.1" cy="405.37" r="3"/><circle cx="796.73" cy="407.85" r="3"/><circle cx="798.35" cy="410.39" r="3"/><circle cx="799.98" cy="412.98" r="3"/><circle cx="801.61" cy="415.63" r="3"/><circle cx="803.24" cy="418.34" r="3"/><circle cx="804.86" cy="421.11" r="3"/><circle cx="806.49" cy="423.94" r="3"/><circle cx="808.12" cy="426.83" r="3"/><circle cx="809.75" cy="429.77" r="3"/><circle cx="811.37" cy="432.77" r="3"/><circle cx="813" cy="435.83" r="3"/><circle cx="814.63" cy="438.95" r="3"/><circle cx="816.26" cy="442.13" r="3"/><circle cx="817.88" cy="445.37" r="3"/><circle cx="819.51" cy="448.66" r="3"/><circle cx="821.14" cy="452.01" r="3"/><circle cx="822.77" cy="455.42" r="3"/><circle cx="824.39" cy="458.89" r="3"/><circle cx="826.02" cy="462.42" r="3"/><circle cx="827.65" cy="466" r="3"/><circle cx="829.28" cy="469.65" r="3"/><circle cx="830.9" cy="473.35" r="3"/><circle cx="832.53" cy="477.11" r="3"/><circle cx="834.16" cy="480.93" r="3"/><circle cx="835.79" cy="484.81" r="3"/><circle cx="837.41" cy="488.74" r="3"/><circle cx="839.04" cy="492.74" r="3"/><circle cx="840.67" cy="496.79" r="3"/><circle cx="842.3" cy="500.9" r="3"/><circle cx="843.93" cy="505.07" r="3"/><circle cx="845.55" cy="509.29" r="3"/><circle cx="847.18" cy="513.58" r="3"/><circle cx="848.81" cy="517.92" r="3"/><circle cx="850.44" cy="522.32" r="3"/><circle cx="852.06" cy="526.78" r="3"/><circle cx="853.69" cy="531.3" r="3"/><circle cx="855.32" cy="535.88" r="3"/><circle cx="856.95" cy="540.51" r="3"/><circle cx="858.57" cy="545.21" r="3"/><circle cx="860.2" cy="549.96" r="3"/><circle cx="861.83" cy="554.77" r="3"/><circle cx="863.46" cy="559.64" r="3"/><circle cx="865.08" cy="564.56" r="3"/><circle cx="866.71" cy="569.55" r="3"/><circle cx="868.34" cy="574.59" r="3"/><circle cx="869.97" cy="579.69" r="3"/><circle cx="871.59" cy="584.85" r="3"/><circle cx="873.22" cy="590.07" r="3"/><circle cx="874.85" cy="595.34" r="3"/><circle cx="876.48" cy="600.68" r="3"/><circle cx="878.1" cy="606.07" r="3"/><circle cx="879.73" cy="611.52" r="3"/><circle cx="881.36" cy="617.03" r="3"/><circle cx="882.99" cy="622.6" r="3"/></g>
<path d="M570.5 622.6L571.47 621.25L572.44 619.93L573.41 618.62L574.39 617.34L575.36 616.08L576.33 614.85L577.3 613.64L578.27 612.45L579.24 611.28L580.22 610.13L581.19 609.01L582.16 607.91L583.13 606.84L584.1 605.78L585.07 604.75L586.04 603.74L587.02 602.76L587.99 601.79L588.96 600.85L589.93 599.94L590.9 599.04L591.87 598.17L592.85 597.32L593.82 596.49L594.79 595.69L595.76 594.9L596.73 594.15L597.7 593.41L598.68 592.69L599.65 592L600.62 591.34L601.59 590.69L602.56 590.07L603.53 589.47L604.5 588.89L605.48 588.33L606.45 587.8L607.42 587.29L608.39 586.8L609.36 586.34L610.33 585.9L611.31 585.48L612.28 585.08L613.25 584.71L614.22 584.35L615.19 584.03L616.16 583.72L617.13 583.44L618.11 583.18L619.08 582.94L620.05 582.72L621.02 582.53L621.99 582.36L622.96 582.21L623.94 582.09L624.91 581.99L625.88 581.91L626.85 581.85L627.82 581.82L628.79 581.81L629.77 581.82L630.74 581.85L631.71 581.91L632.68 581.99L633.65 582.09L634.62 582.21L635.59 582.36L636.57 582.53L637.54 582.72L638.51 582.94L639.48 583.18L640.45 583.44L641.42 583.72L642.4 584.03L643.37 584.35L644.34 584.71L645.31 585.08L646.28 585.48L647.25 585.9L648.22 586.34L649.2 586.8L650.17 587.29L651.14 587.8L652.11 588.33L653.08 588.89L654.05 589.47L655.03 590.07L656 590.69L656.97 591.34L657.94 592L658.91 592.69L659.88 593.41L660.86 594.15L661.83 594.9L662.8 595.69L663.77 596.49L664.74 597.32L665.71 598.17L666.68 599.04L667.66 599.94L668.63 600.85L669.6 601.79L670.57 602.76L671.54 603.74L672.51 604.75L673.49 605.78L674.46 606.84L675.43 607.91L676.4 609.01L677.37 610.13L678.34 611.28L679.31 612.45L680.29 613.64L681.26 614.85L682.23 616.08L683.2 617.34L684.17 618.62L685.14 619.93L686.12 621.25L687.09 622.6" fill="none" stroke="#96d09c" stroke-width="2.0" stroke-linejoin="round" />
<path d="M570.5 622.6L571.82 620.15L573.14 617.75L574.47 615.38L575.79 613.06L577.11 610.78L578.43 608.53L579.75 606.33L581.07 604.18L582.4 602.06L583.72 599.98L585.04 597.94L586.36 595.95L587.68 594L589.01 592.08L590.33 590.21L591.65 588.38L592.97 586.59L594.29 584.85L595.62 583.14L596.94 581.47L598.26 579.85L599.58 578.27L600.9 576.72L602.22 575.22L603.55 573.76L604.87 572.34L606.19 570.97L607.51 569.63L608.83 568.33L610.16 567.08L611.48 565.87L612.8 564.69L614.12 563.56L615.44 562.47L616.76 561.42L618.09 560.42L619.41 559.45L620.73 558.52L622.05 557.64L623.37 556.8L624.7 556L626.02 555.23L627.34 554.51L628.66 553.84L629.98 553.2L631.31 552.6L632.63 552.05L633.95 551.53L635.27 551.06L636.59 550.63L637.91 550.24L639.24 549.89L640.56 549.58L641.88 549.31L643.2 549.09L644.52 548.9L645.85 548.76L647.17 548.65L648.49 548.59L649.81 548.57L651.13 548.59L652.45 548.65L653.78 548.76L655.1 548.9L656.42 549.09L657.74 549.31L659.06 549.58L660.39 549.89L661.71 550.24L663.03 550.63L664.35 551.06L665.67 551.53L667 552.05L668.32 552.6L669.64 553.2L670.96 553.84L672.28 554.51L673.6 555.23L674.93 556L676.25 556.8L677.57 557.64L678.89 558.52L680.21 559.45L681.54 560.42L682.86 561.42L684.18 562.47L685.5 563.56L686.82 564.69L688.14 565.87L689.47 567.08L690.79 568.33L692.11 569.63L693.43 570.97L694.75 572.34L696.08 573.76L697.4 575.22L698.72 576.72L700.04 578.27L701.36 579.85L702.69 581.47L704.01 583.14L705.33 584.85L706.65 586.59L707.97 588.38L709.29 590.21L710.62 592.08L711.94 594L713.26 595.95L714.58 597.94L715.9 599.98L717.23 602.06L718.55 604.18L719.87 606.33L721.19 608.53L722.51 610.78L723.83 613.06L725.16 615.38L726.48 617.75L727.8 620.15L729.12 622.6" fill="none" stroke="#f5c48c" stroke-width="2.0" stroke-linejoin="round" />
<path d="M570.5 622.6L572.21 618.65L573.92 614.76L575.63 610.94L577.33 607.19L579.04 603.5L580.75 599.88L582.46 596.32L584.17 592.83L585.88 589.41L587.58 586.06L589.29 582.77L591 579.54L592.71 576.39L594.42 573.3L596.13 570.28L597.84 567.32L599.54 564.43L601.25 561.6L602.96 558.85L604.67 556.16L606.38 553.53L608.09 550.97L609.8 548.48L611.5 546.06L613.21 543.7L614.92 541.41L616.63 539.18L618.34 537.02L620.05 534.93L621.75 532.9L623.46 530.94L625.17 529.05L626.88 527.22L628.59 525.46L630.3 523.76L632.01 522.14L633.71 520.58L635.42 519.08L637.13 517.65L638.84 516.29L640.55 514.99L642.26 513.76L643.97 512.6L645.67 511.51L647.38 510.48L649.09 509.51L650.8 508.62L652.51 507.78L654.22 507.02L655.92 506.32L657.63 505.69L659.34 505.13L661.05 504.63L662.76 504.2L664.47 503.83L666.18 503.53L667.88 503.3L669.59 503.13L671.3 503.03L673.01 503L674.72 503.03L676.43 503.13L678.14 503.3L679.84 503.53L681.55 503.83L683.26 504.2L684.97 504.63L686.68 505.13L688.39 505.69L690.09 506.32L691.8 507.02L693.51 507.78L695.22 508.62L696.93 509.51L698.64 510.48L700.35 511.51L702.05 512.6L703.76 513.76L705.47 514.99L707.18 516.29L708.89 517.65L710.6 519.08L712.3 520.58L714.01 522.14L715.72 523.76L717.43 525.46L719.14 527.22L720.85 529.05L722.56 530.94L724.26 532.9L725.97 534.93L727.68 537.02L729.39 539.18L731.1 541.41L732.81 543.7L734.52 546.06L736.22 548.48L737.93 550.97L739.64 553.53L741.35 556.16L743.06 558.85L744.77 561.6L746.47 564.43L748.18 567.32L749.89 570.28L751.6 573.3L753.31 576.39L755.02 579.54L756.73 582.77L758.43 586.06L760.14 589.41L761.85 592.83L763.56 596.32L765.27 599.88L766.98 603.5L768.69 607.19L770.39 610.94L772.1 614.76L773.81 618.65L775.52 622.6" fill="none" stroke="#92b2de" stroke-width="2.0" stroke-linejoin="round" />
<path d="M570.5 622.6L572.56 616.9L574.61 611.3L576.67 605.8L578.72 600.39L580.78 595.07L582.83 589.86L584.89 584.73L586.94 579.71L589 574.78L591.05 569.94L593.11 565.2L595.17 560.56L597.22 556.01L599.28 551.56L601.33 547.2L603.39 542.94L605.44 538.78L607.5 534.71L609.55 530.74L611.61 526.86L613.67 523.08L615.72 519.39L617.78 515.8L619.83 512.31L621.89 508.91L623.94 505.6L626 502.4L628.05 499.29L630.11 496.27L632.16 493.35L634.22 490.53L636.28 487.8L638.33 485.16L640.39 482.63L642.44 480.19L644.5 477.84L646.55 475.59L648.61 473.44L650.66 471.38L652.72 469.41L654.77 467.55L656.83 465.78L658.89 464.1L660.94 462.52L663 461.04L665.05 459.65L667.11 458.36L669.16 457.16L671.22 456.06L673.27 455.05L675.33 454.14L677.38 453.33L679.44 452.61L681.5 451.99L683.55 451.46L685.61 451.03L687.66 450.7L689.72 450.46L691.77 450.31L693.83 450.27L695.88 450.31L697.94 450.46L700 450.7L702.05 451.03L704.11 451.46L706.16 451.99L708.22 452.61L710.27 453.33L712.33 454.14L714.38 455.05L716.44 456.06L718.49 457.16L720.55 458.36L722.61 459.65L724.66 461.04L726.72 462.52L728.77 464.1L730.83 465.78L732.88 467.55L734.94 469.41L736.99 471.38L739.05 473.44L741.1 475.59L743.16 477.84L745.22 480.19L747.27 482.63L749.33 485.16L751.38 487.8L753.44 490.53L755.49 493.35L757.55 496.27L759.6 499.29L761.66 502.4L763.72 505.6L765.77 508.91L767.83 512.31L769.88 515.8L771.94 519.39L773.99 523.08L776.05 526.86L778.1 530.74L780.16 534.71L782.21 538.78L784.27 542.94L786.33 547.2L788.38 551.56L790.44 556.01L792.49 560.56L794.55 565.2L796.6 569.94L798.66 574.78L800.71 579.71L802.77 584.73L804.82 589.86L806.88 595.07L808.94 600.39L810.99 605.8L813.05 611.3L815.1 616.9L817.16 622.6" fill="none" stroke="#efb4d8" stroke-width="2.0" stroke-linejoin="round" />
<path d="M570.5 622.6L573.05 614.08L575.61 605.71L578.16 597.47L580.72 589.38L583.27 581.44L585.83 573.64L588.38 565.98L590.94 558.46L593.49 551.09L596.04 543.86L598.6 536.77L601.15 529.83L603.71 523.03L606.26 516.37L608.82 509.85L611.37 503.48L613.93 497.26L616.48 491.17L619.04 485.23L621.59 479.43L624.14 473.78L626.7 468.26L629.25 462.89L631.81 457.67L634.36 452.59L636.92 447.65L639.47 442.85L642.03 438.2L644.58 433.69L647.13 429.32L649.69 425.1L652.24 421.02L654.8 417.08L657.35 413.29L659.91 409.64L662.46 406.13L665.02 402.76L667.57 399.54L670.12 396.46L672.68 393.53L675.23 390.74L677.79 388.09L680.34 385.58L682.9 383.22L685.45 381L688.01 378.93L690.56 376.99L693.11 375.2L695.67 373.56L698.22 372.05L700.78 370.69L703.33 369.48L705.89 368.4L708.44 367.47L711 366.68L713.55 366.04L716.11 365.54L718.66 365.18L721.21 364.97L723.77 364.9L726.32 364.97L728.88 365.18L731.43 365.54L733.99 366.04L736.54 366.68L739.1 367.47L741.65 368.4L744.2 369.48L746.76 370.69L749.31 372.05L751.87 373.56L754.42 375.2L756.98 376.99L759.53 378.93L762.09 381L764.64 383.22L767.19 385.58L769.75 388.09L772.3 390.74L774.86 393.53L777.41 396.46L779.97 399.54L782.52 402.76L785.08 406.13L787.63 409.64L790.19 413.29L792.74 417.08L795.29 421.02L797.85 425.1L800.4 429.32L802.96 433.69L805.51 438.2L808.07 442.85L810.62 447.65L813.18 452.59L815.73 457.67L818.28 462.89L820.84 468.26L823.39 473.78L825.95 479.43L828.5 485.23L831.06 491.17L833.61 497.26L836.17 503.48L838.72 509.85L841.27 516.37L843.83 523.03L846.38 529.83L848.94 536.77L851.49 543.86L854.05 551.09L856.6 558.46L859.16 565.98L861.71 573.64L864.27 581.44L866.82 589.38L869.37 597.47L871.93 605.71L874.48 614.08L877.04 622.6" fill="none" stroke="#a3aa84" stroke-width="2.0" stroke-linejoin="round" />
</g>
<rect x="570.5" y="304.2" width="356.9" height="318.4" fill="none" stroke="#262626" stroke-width="1.5"/>
<text x="570.5" y="642.8" text-anchor="middle" font-size="16.5" stroke="#111" stroke-width="0.3">0</text>
<text x="610.16" y="642.8" text-anchor="middle" font-size="16.5" stroke="#111" stroke-width="0.3">20</text>
<text x="649.81" y="642.8" text-anchor="middle" font-size="16.5" stroke="#111" stroke-width="0.3">40</text>
<text x="689.47" y="642.8" text-anchor="middle" font-size="16.5" stroke="#111" stroke-width="0.3">60</text>
<text x="729.12" y="642.8" text-anchor="middle" font-size="16.5" stroke="#111" stroke-width="0.3">80</text>
<text x="768.78" y="642.8" text-anchor="middle" font-size="16.5" stroke="#111" stroke-width="0.3">100</text>
<text x="808.43" y="642.8" text-anchor="middle" font-size="16.5" stroke="#111" stroke-width="0.3">120</text>
<text x="848.09" y="642.8" text-anchor="middle" font-size="16.5" stroke="#111" stroke-width="0.3">140</text>
<text x="887.74" y="642.8" text-anchor="middle" font-size="16.5" stroke="#111" stroke-width="0.3">160</text>
<text x="927.4" y="642.8" text-anchor="middle" font-size="16.5" stroke="#111" stroke-width="0.3">180</text>
<path d="M570.5 622.6v-6M590.33 622.6v-3M610.16 622.6v-6M629.98 622.6v-3M649.81 622.6v-6M669.64 622.6v-3M689.47 622.6v-6M709.29 622.6v-3M729.12 622.6v-6M748.95 622.6v-3M768.78 622.6v-6M788.61 622.6v-3M808.43 622.6v-6M828.26 622.6v-3M848.09 622.6v-6M867.92 622.6v-3M887.74 622.6v-6M907.57 622.6v-3M927.4 622.6v-6" stroke="#262626" stroke-width="1.35" fill="none"/>
<text x="563" y="628.4" text-anchor="end" font-size="16.5" fill="#262626" stroke="#262626" stroke-width="0.3">0</text>
<text x="563" y="588.6" text-anchor="end" font-size="16.5" fill="#262626" stroke="#262626" stroke-width="0.3">0.1</text>
<text x="563" y="548.8" text-anchor="end" font-size="16.5" fill="#262626" stroke="#262626" stroke-width="0.3">0.2</text>
<text x="563" y="509" text-anchor="end" font-size="16.5" fill="#262626" stroke="#262626" stroke-width="0.3">0.3</text>
<text x="563" y="469.2" text-anchor="end" font-size="16.5" fill="#262626" stroke="#262626" stroke-width="0.3">0.4</text>
<text x="563" y="429.4" text-anchor="end" font-size="16.5" fill="#262626" stroke="#262626" stroke-width="0.3">0.5</text>
<text x="563" y="389.6" text-anchor="end" font-size="16.5" fill="#262626" stroke="#262626" stroke-width="0.3">0.6</text>
<text x="563" y="349.8" text-anchor="end" font-size="16.5" fill="#262626" stroke="#262626" stroke-width="0.3">0.7</text>
<text x="563" y="310" text-anchor="end" font-size="16.5" fill="#262626" stroke="#262626" stroke-width="0.3">0.8</text>
<path d="M570.5 622.6h6M570.5 602.7h3M570.5 582.8h6M570.5 562.9h3M570.5 543h6M570.5 523.1h3M570.5 503.2h6M570.5 483.3h3M570.5 463.4h6M570.5 443.5h3M570.5 423.6h6M570.5 403.7h3M570.5 383.8h6M570.5 363.9h3M570.5 344h6M570.5 324.1h3M570.5 304.2h6" stroke="#262626" stroke-width="1.35" fill="none"/>
<path d="M808.8 318.3H846.2" stroke="#96d09c" stroke-width="1.5"/>
<text x="850" y="323.8" font-size="15.9" stroke="#111" stroke-width="0.3">ΔT = 30 K</text>
<path d="M808.8 337.95H846.2" stroke="#f5c48c" stroke-width="1.5"/>
<text x="850" y="343.45" font-size="15.9" stroke="#111" stroke-width="0.3">ΔT = 40 K</text>
<path d="M808.8 357.6H846.2" stroke="#92b2de" stroke-width="1.5"/>
<text x="850" y="363.1" font-size="15.9" stroke="#111" stroke-width="0.3">ΔT = 50 K</text>
<path d="M808.8 377.25H846.2" stroke="#efb4d8" stroke-width="1.5"/>
<text x="850" y="382.75" font-size="15.9" stroke="#111" stroke-width="0.3">ΔT = 60 K</text>
<path d="M808.8 396.9H846.2" stroke="#a3aa84" stroke-width="1.5"/>
<text x="850" y="402.4" font-size="15.9" stroke="#111" stroke-width="0.3">ΔT = 70 K</text>
<text x="749.2" y="671" text-anchor="middle" font-size="17.6" stroke="#111" stroke-width="0.3"><tspan font-style="italic">I</tspan> (µA)</text>
<text transform="translate(529 462) rotate(-90)" text-anchor="middle" font-size="17.6" stroke="#111" stroke-width="0.3"><tspan font-style="italic">P</tspan><tspan font-style="italic" font-size="11.6" dy="3.8">out</tspan><tspan dy="-3.8"> (µW)</tspan></text>
</g>
<g id="panel-d">
<path d="M155 695.4V1014.4" stroke="#b8b8b8" stroke-width="1" stroke-dasharray="1 1.2"/>
<path d="M102.16 892.5C103.86 885.42 108.96 861.92 112.36 850C115.76 838.08 119.16 829.17 122.56 821C125.96 812.83 129.36 806.83 132.76 801C136.16 795.17 137.86 791.97 142.96 786C148.06 780.03 156.56 770.97 163.36 765.2C170.16 759.43 176.96 755.3 183.76 751.4C190.56 747.5 193.96 745.63 204.16 741.8C214.36 737.97 227.96 732.45 244.96 728.4C261.96 724.35 282.36 720.7 306.16 717.5C329.96 714.3 374.16 710.58 387.76 709.2" fill="none" stroke="#c9c9c9" stroke-width="2.2"/>
<path d="M102.16 960.5L112.36 943L122.56 931.4L132.76 924L142.96 920L163.36 916L183.76 916.4L204.16 918.4L244.96 924L306.16 933.4L387.76 944" fill="none" stroke="#3a5a20" stroke-width="2.2" stroke-linejoin="round" />
<rect x="98.66" y="957" width="7" height="7" fill="#3a5a20"/>
<rect x="108.86" y="939.5" width="7" height="7" fill="#3a5a20"/>
<rect x="119.06" y="927.9" width="7" height="7" fill="#3a5a20"/>
<rect x="129.26" y="920.5" width="7" height="7" fill="#3a5a20"/>
<rect x="139.46" y="916.5" width="7" height="7" fill="#3a5a20"/>
<rect x="159.86" y="912.5" width="7" height="7" fill="#3a5a20"/>
<rect x="180.26" y="912.9" width="7" height="7" fill="#3a5a20"/>
<rect x="200.66" y="914.9" width="7" height="7" fill="#3a5a20"/>
<rect x="241.46" y="920.5" width="7" height="7" fill="#3a5a20"/>
<rect x="302.66" y="929.9" width="7" height="7" fill="#3a5a20"/>
<rect x="384.26" y="940.5" width="7" height="7" fill="#3a5a20"/>
<path d="M102.16 880.8L112.36 848L122.56 833L132.76 827.3L142.96 827.2L163.36 834.4L183.76 845.2L204.16 856.2L244.96 876.7L306.16 899.6L387.76 922" fill="none" stroke="#5d8438" stroke-width="2.2" stroke-linejoin="round" />
<circle cx="102.16" cy="880.8" r="3.85" fill="#5d8438"/>
<circle cx="112.36" cy="848" r="3.85" fill="#5d8438"/>
<circle cx="122.56" cy="833" r="3.85" fill="#5d8438"/>
<circle cx="132.76" cy="827.3" r="3.85" fill="#5d8438"/>
<circle cx="142.96" cy="827.2" r="3.85" fill="#5d8438"/>
<circle cx="163.36" cy="834.4" r="3.85" fill="#5d8438"/>
<circle cx="183.76" cy="845.2" r="3.85" fill="#5d8438"/>
<circle cx="204.16" cy="856.2" r="3.85" fill="#5d8438"/>
<circle cx="244.96" cy="876.7" r="3.85" fill="#5d8438"/>
<circle cx="306.16" cy="899.6" r="3.85" fill="#5d8438"/>
<circle cx="387.76" cy="922" r="3.85" fill="#5d8438"/>
<path d="M102.16 751.3L112.36 721.2L122.56 718L132.76 726.2L142.96 738.8L163.36 766.3L183.76 792L204.16 813.8L244.96 847.5L306.16 882.2L387.76 911.5" fill="none" stroke="#a4cb7c" stroke-width="2.2" stroke-linejoin="round" />
<path d="M102.16 746.24L107.09 754.82H97.23Z" fill="#a4cb7c"/>
<path d="M112.36 716.14L117.29 724.72H107.43Z" fill="#a4cb7c"/>
<path d="M122.56 712.94L127.49 721.52H117.63Z" fill="#a4cb7c"/>
<path d="M132.76 721.14L137.69 729.72H127.83Z" fill="#a4cb7c"/>
<path d="M142.96 733.74L147.89 742.32H138.03Z" fill="#a4cb7c"/>
<path d="M163.36 761.24L168.29 769.82H158.43Z" fill="#a4cb7c"/>
<path d="M183.76 786.94L188.69 795.52H178.83Z" fill="#a4cb7c"/>
<path d="M204.16 808.74L209.09 817.32H199.23Z" fill="#a4cb7c"/>
<path d="M244.96 842.44L249.89 851.02H240.03Z" fill="#a4cb7c"/>
<path d="M306.16 877.14L311.09 885.72H301.23Z" fill="#a4cb7c"/>
<path d="M387.76 906.44L392.69 915.02H382.83Z" fill="#a4cb7c"/>
<path d="M430.6 695.4H74.2V1014.4H430.6" fill="none" stroke="#262626" stroke-width="1.5"/>
<path d="M430.6 695.4V1014.4" fill="none" stroke="#828282" stroke-width="1.5"/>
<text x="74.2" y="1035.2" text-anchor="middle" font-size="16.5" stroke="#111" stroke-width="0.3">0</text>
<text x="125.11" y="1035.2" text-anchor="middle" font-size="16.5" stroke="#111" stroke-width="0.3">5</text>
<text x="176.03" y="1035.2" text-anchor="middle" font-size="16.5" stroke="#111" stroke-width="0.3">10</text>
<text x="226.94" y="1035.2" text-anchor="middle" font-size="16.5" stroke="#111" stroke-width="0.3">15</text>
<text x="277.86" y="1035.2" text-anchor="middle" font-size="16.5" stroke="#111" stroke-width="0.3">20</text>
<text x="328.77" y="1035.2" text-anchor="middle" font-size="16.5" stroke="#111" stroke-width="0.3">25</text>
<text x="379.69" y="1035.2" text-anchor="middle" font-size="16.5" stroke="#111" stroke-width="0.3">30</text>
<text x="430.6" y="1035.2" text-anchor="middle" font-size="16.5" stroke="#111" stroke-width="0.3">35</text>
<path d="M74.2 1014.4v-6M99.66 1014.4v-3M125.11 1014.4v-6M150.57 1014.4v-3M176.03 1014.4v-6M201.49 1014.4v-3M226.94 1014.4v-6M252.4 1014.4v-3M277.86 1014.4v-6M303.31 1014.4v-3M328.77 1014.4v-6M354.23 1014.4v-3M379.69 1014.4v-6M405.14 1014.4v-3M430.6 1014.4v-6" stroke="#262626" stroke-width="1.35" fill="none"/>
<text x="66.7" y="1020.2" text-anchor="end" font-size="16.5" fill="#262626" stroke="#262626" stroke-width="0.3">0</text>
<text x="66.7" y="974.63" text-anchor="end" font-size="16.5" fill="#262626" stroke="#262626" stroke-width="0.3">0.3</text>
<text x="66.7" y="929.06" text-anchor="end" font-size="16.5" fill="#262626" stroke="#262626" stroke-width="0.3">0.6</text>
<text x="66.7" y="883.49" text-anchor="end" font-size="16.5" fill="#262626" stroke="#262626" stroke-width="0.3">0.9</text>
<text x="66.7" y="837.91" text-anchor="end" font-size="16.5" fill="#262626" stroke="#262626" stroke-width="0.3">1.2</text>
<text x="66.7" y="792.34" text-anchor="end" font-size="16.5" fill="#262626" stroke="#262626" stroke-width="0.3">1.5</text>
<text x="66.7" y="746.77" text-anchor="end" font-size="16.5" fill="#262626" stroke="#262626" stroke-width="0.3">1.8</text>
<text x="66.7" y="701.2" text-anchor="end" font-size="16.5" fill="#262626" stroke="#262626" stroke-width="0.3">2.1</text>
<path d="M74.2 1014.4h6M74.2 991.61h3M74.2 968.83h6M74.2 946.04h3M74.2 923.26h6M74.2 900.47h3M74.2 877.69h6M74.2 854.9h3M74.2 832.11h6M74.2 809.33h3M74.2 786.54h6M74.2 763.76h3M74.2 740.97h6M74.2 718.19h3M74.2 695.4h6" stroke="#262626" stroke-width="1.35" fill="none"/>
<text x="438.5" y="1020.2" text-anchor="start" font-size="16.5" fill="#828282" stroke="#828282" stroke-width="0.3">5.0</text>
<text x="438.5" y="967.1" text-anchor="start" font-size="16.5" fill="#828282" stroke="#828282" stroke-width="0.3">7.5</text>
<text x="438.5" y="914" text-anchor="start" font-size="16.5" fill="#828282" stroke="#828282" stroke-width="0.3">10.0</text>
<text x="438.5" y="860.9" text-anchor="start" font-size="16.5" fill="#828282" stroke="#828282" stroke-width="0.3">12.5</text>
<text x="438.5" y="807.8" text-anchor="start" font-size="16.5" fill="#828282" stroke="#828282" stroke-width="0.3">15.0</text>
<text x="438.5" y="754.7" text-anchor="start" font-size="16.5" fill="#828282" stroke="#828282" stroke-width="0.3">17.5</text>
<text x="438.5" y="701.6" text-anchor="start" font-size="16.5" fill="#828282" stroke="#828282" stroke-width="0.3">20.0</text>
<path d="M430.6 1014.4h-6M430.6 987.85h-3M430.6 961.3h-6M430.6 934.75h-3M430.6 908.2h-6M430.6 881.65h-3M430.6 855.1h-6M430.6 828.55h-3M430.6 802h-6M430.6 775.45h-3M430.6 748.9h-6M430.6 722.35h-3M430.6 695.8h-6" stroke="#828282" stroke-width="1.35" fill="none"/>
<path d="M295 744H332" stroke="#a4cb7c" stroke-width="2.2"/>
<path d="M313.6 740.05L317.44 746.75H309.76Z" fill="#a4cb7c"/>
<text x="336.6" y="750.1" font-size="15.9" stroke="#111" stroke-width="0.3">R<tspan font-size="10.5" dy="4">c</tspan><tspan dy="-4"> = 1 Ω</tspan></text>
<path d="M295 767.45H332" stroke="#5d8438" stroke-width="2.2"/>
<circle cx="313.6" cy="767.45" r="3.003" fill="#5d8438"/>
<text x="336.6" y="773.55" font-size="15.9" stroke="#111" stroke-width="0.3">R<tspan font-size="10.5" dy="4">c</tspan><tspan dy="-4"> = 3 Ω</tspan></text>
<path d="M295 790.9H332" stroke="#3a5a20" stroke-width="2.2"/>
<rect x="310.87" y="788.17" width="5.46" height="5.46" fill="#3a5a20"/>
<text x="336.6" y="797" font-size="15.9" stroke="#111" stroke-width="0.3">R<tspan font-size="10.5" dy="4">c</tspan><tspan dy="-4"> = 9.1 Ω</tspan></text>
<text x="342" y="821.4" font-size="15.9" stroke="#111" stroke-width="0.3"><tspan font-style="italic">N</tspan><tspan font-style="italic" font-size="10.5" dy="4">t</tspan><tspan dy="-4"> = 90</tspan></text>
<text x="323.5" y="844.5" font-size="15.9" stroke="#111" stroke-width="0.3">ΔT = 70 K</text>
<text x="252" y="1063" text-anchor="middle" font-size="17.6" stroke="#111" stroke-width="0.3"><tspan font-style="italic">L</tspan><tspan font-style="italic" font-size="11.6" dy="3.8">l</tspan><tspan dy="-3.8"> (mm)</tspan></text>
<text transform="translate(33.3 861) rotate(-90)" text-anchor="middle" font-size="17.6" stroke="#111" stroke-width="0.3"><tspan font-style="italic">P</tspan><tspan font-style="italic" font-size="11.6" dy="3.8">max</tspan><tspan dy="-3.8"> (µW)</tspan></text>
<text transform="translate(488 855) rotate(-90)" text-anchor="middle" font-size="16.2" fill="#a6a6a6" stroke="#a6a6a6" stroke-width="0.3"><tspan font-style="italic">V</tspan><tspan font-style="italic" font-size="10.8" dy="3.5">oc</tspan><tspan dy="-3.5"> (mV)</tspan></text>
</g>
<g id="panel-e">
<path d="M656.2 695.4V1014.4" stroke="#b8b8b8" stroke-width="1" stroke-dasharray="1 1.2"/>
<path d="M603.36 955L613.56 935.5L623.76 922.6L633.96 914.5L644.16 909.8L664.56 905.5L684.96 906L705.36 908L746.16 914.5L807.36 925L888.96 936.8" fill="none" stroke="#3a5a20" stroke-width="2.2" stroke-linejoin="round" />
<rect x="599.86" y="951.5" width="7" height="7" fill="#3a5a20"/>
<rect x="610.06" y="932" width="7" height="7" fill="#3a5a20"/>
<rect x="620.26" y="919.1" width="7" height="7" fill="#3a5a20"/>
<rect x="630.46" y="911" width="7" height="7" fill="#3a5a20"/>
<rect x="640.66" y="906.3" width="7" height="7" fill="#3a5a20"/>
<rect x="661.06" y="902" width="7" height="7" fill="#3a5a20"/>
<rect x="681.46" y="902.5" width="7" height="7" fill="#3a5a20"/>
<rect x="701.86" y="904.5" width="7" height="7" fill="#3a5a20"/>
<rect x="742.66" y="911" width="7" height="7" fill="#3a5a20"/>
<rect x="803.86" y="921.5" width="7" height="7" fill="#3a5a20"/>
<rect x="885.46" y="933.3" width="7" height="7" fill="#3a5a20"/>
<path d="M603.36 973L613.56 953.2L623.76 937.5L633.96 925.7L644.16 917L664.56 905.5L684.96 898.7L705.36 895L746.16 894.2L807.36 898.2L888.96 906.2" fill="none" stroke="#5d8438" stroke-width="2.2" stroke-linejoin="round" />
<circle cx="603.36" cy="973" r="3.85" fill="#5d8438"/>
<circle cx="613.56" cy="953.2" r="3.85" fill="#5d8438"/>
<circle cx="623.76" cy="937.5" r="3.85" fill="#5d8438"/>
<circle cx="633.96" cy="925.7" r="3.85" fill="#5d8438"/>
<circle cx="644.16" cy="917" r="3.85" fill="#5d8438"/>
<circle cx="664.56" cy="905.5" r="3.85" fill="#5d8438"/>
<circle cx="684.96" cy="898.7" r="3.85" fill="#5d8438"/>
<circle cx="705.36" cy="895" r="3.85" fill="#5d8438"/>
<circle cx="746.16" cy="894.2" r="3.85" fill="#5d8438"/>
<circle cx="807.36" cy="898.2" r="3.85" fill="#5d8438"/>
<circle cx="888.96" cy="906.2" r="3.85" fill="#5d8438"/>
<path d="M603.36 983.8L613.56 966.7L623.76 951.2L633.96 939L644.16 928.2L664.56 913.7L684.96 904.5L705.36 897L746.16 890.5L807.36 888.2L888.96 892" fill="none" stroke="#a4cb7c" stroke-width="2.2" stroke-linejoin="round" />
<path d="M603.36 978.74L608.29 987.32H598.43Z" fill="#a4cb7c"/>
<path d="M613.56 961.64L618.49 970.22H608.63Z" fill="#a4cb7c"/>
<path d="M623.76 946.14L628.69 954.72H618.83Z" fill="#a4cb7c"/>
<path d="M633.96 933.94L638.89 942.52H629.03Z" fill="#a4cb7c"/>
<path d="M644.16 923.14L649.09 931.72H639.23Z" fill="#a4cb7c"/>
<path d="M664.56 908.64L669.49 917.22H659.63Z" fill="#a4cb7c"/>
<path d="M684.96 899.44L689.89 908.02H680.03Z" fill="#a4cb7c"/>
<path d="M705.36 891.94L710.29 900.52H700.43Z" fill="#a4cb7c"/>
<path d="M746.16 885.44L751.09 894.02H741.23Z" fill="#a4cb7c"/>
<path d="M807.36 883.14L812.29 891.72H802.43Z" fill="#a4cb7c"/>
<path d="M888.96 886.94L893.89 895.52H884.03Z" fill="#a4cb7c"/>
<path d="M603.36 962.5L613.56 920.7L623.76 889.2L633.96 865L644.16 846.2L664.56 818L684.96 797.5L705.36 783L746.16 762L807.36 743.3L888.96 729.1" fill="none" stroke="#a4cb7c" stroke-width="2.2" stroke-linejoin="round" />
<path d="M603.36 957.44L608.29 966.02H598.43Z" fill="#a4cb7c"/>
<path d="M613.56 915.64L618.49 924.22H608.63Z" fill="#a4cb7c"/>
<path d="M623.76 884.14L628.69 892.72H618.83Z" fill="#a4cb7c"/>
<path d="M633.96 859.94L638.89 868.52H629.03Z" fill="#a4cb7c"/>
<path d="M644.16 841.14L649.09 849.72H639.23Z" fill="#a4cb7c"/>
<path d="M664.56 812.94L669.49 821.52H659.63Z" fill="#a4cb7c"/>
<path d="M684.96 792.44L689.89 801.02H680.03Z" fill="#a4cb7c"/>
<path d="M705.36 777.94L710.29 786.52H700.43Z" fill="#a4cb7c"/>
<path d="M746.16 756.94L751.09 765.52H741.23Z" fill="#a4cb7c"/>
<path d="M807.36 738.24L812.29 746.82H802.43Z" fill="#a4cb7c"/>
<path d="M888.96 724.04L893.89 732.62H884.03Z" fill="#a4cb7c"/>
<path d="M603.36 934.5L613.56 891L623.76 860.6L633.96 837.5L644.16 819.7L664.56 794.2L684.96 777L705.36 764L746.16 746.7L807.36 731.4L888.96 719.8" fill="none" stroke="#5d8438" stroke-width="2.2" stroke-linejoin="round" />
<circle cx="603.36" cy="934.5" r="3.85" fill="#5d8438"/>
<circle cx="613.56" cy="891" r="3.85" fill="#5d8438"/>
<circle cx="623.76" cy="860.6" r="3.85" fill="#5d8438"/>
<circle cx="633.96" cy="837.5" r="3.85" fill="#5d8438"/>
<circle cx="644.16" cy="819.7" r="3.85" fill="#5d8438"/>
<circle cx="664.56" cy="794.2" r="3.85" fill="#5d8438"/>
<circle cx="684.96" cy="777" r="3.85" fill="#5d8438"/>
<circle cx="705.36" cy="764" r="3.85" fill="#5d8438"/>
<circle cx="746.16" cy="746.7" r="3.85" fill="#5d8438"/>
<circle cx="807.36" cy="731.4" r="3.85" fill="#5d8438"/>
<circle cx="888.96" cy="719.8" r="3.85" fill="#5d8438"/>
<path d="M603.36 892.5L613.56 849.6L623.76 821.2L633.96 801.2L644.16 786.2L664.56 765.4L684.96 751.5L705.36 741.8L746.16 728.6L807.36 717.7L888.96 709.2" fill="none" stroke="#3a5a20" stroke-width="2.2" stroke-linejoin="round" />
<rect x="599.86" y="889" width="7" height="7" fill="#3a5a20"/>
<rect x="610.06" y="846.1" width="7" height="7" fill="#3a5a20"/>
<rect x="620.26" y="817.7" width="7" height="7" fill="#3a5a20"/>
<rect x="630.46" y="797.7" width="7" height="7" fill="#3a5a20"/>
<rect x="640.66" y="782.7" width="7" height="7" fill="#3a5a20"/>
<rect x="661.06" y="761.9" width="7" height="7" fill="#3a5a20"/>
<rect x="681.46" y="748" width="7" height="7" fill="#3a5a20"/>
<rect x="701.86" y="738.3" width="7" height="7" fill="#3a5a20"/>
<rect x="742.66" y="725.1" width="7" height="7" fill="#3a5a20"/>
<rect x="803.86" y="714.2" width="7" height="7" fill="#3a5a20"/>
<rect x="885.46" y="705.7" width="7" height="7" fill="#3a5a20"/>
<path d="M931.8 695.4H575.4V1014.4H931.8" fill="none" stroke="#262626" stroke-width="1.5"/>
<path d="M931.8 695.4V1014.4" fill="none" stroke="#828282" stroke-width="1.5"/>
<text x="575.4" y="1035.2" text-anchor="middle" font-size="16.5" stroke="#111" stroke-width="0.3">0</text>
<text x="626.31" y="1035.2" text-anchor="middle" font-size="16.5" stroke="#111" stroke-width="0.3">5</text>
<text x="677.23" y="1035.2" text-anchor="middle" font-size="16.5" stroke="#111" stroke-width="0.3">10</text>
<text x="728.14" y="1035.2" text-anchor="middle" font-size="16.5" stroke="#111" stroke-width="0.3">15</text>
<text x="779.06" y="1035.2" text-anchor="middle" font-size="16.5" stroke="#111" stroke-width="0.3">20</text>
<text x="829.97" y="1035.2" text-anchor="middle" font-size="16.5" stroke="#111" stroke-width="0.3">25</text>
<text x="880.89" y="1035.2" text-anchor="middle" font-size="16.5" stroke="#111" stroke-width="0.3">30</text>
<text x="931.8" y="1035.2" text-anchor="middle" font-size="16.5" stroke="#111" stroke-width="0.3">35</text>
<path d="M575.4 1014.4v-6M600.86 1014.4v-3M626.31 1014.4v-6M651.77 1014.4v-3M677.23 1014.4v-6M702.69 1014.4v-3M728.14 1014.4v-6M753.6 1014.4v-3M779.06 1014.4v-6M804.51 1014.4v-3M829.97 1014.4v-6M855.43 1014.4v-3M880.89 1014.4v-6M906.34 1014.4v-3M931.8 1014.4v-6" stroke="#262626" stroke-width="1.35" fill="none"/>
<text x="567.9" y="1020.2" text-anchor="end" font-size="16.5" fill="#262626" stroke="#262626" stroke-width="0.3">0</text>
<text x="567.9" y="969.87" text-anchor="end" font-size="16.5" fill="#262626" stroke="#262626" stroke-width="0.3">0.3</text>
<text x="567.9" y="919.54" text-anchor="end" font-size="16.5" fill="#262626" stroke="#262626" stroke-width="0.3">0.6</text>
<text x="567.9" y="869.21" text-anchor="end" font-size="16.5" fill="#262626" stroke="#262626" stroke-width="0.3">0.9</text>
<text x="567.9" y="818.88" text-anchor="end" font-size="16.5" fill="#262626" stroke="#262626" stroke-width="0.3">1.2</text>
<text x="567.9" y="768.56" text-anchor="end" font-size="16.5" fill="#262626" stroke="#262626" stroke-width="0.3">1.5</text>
<text x="567.9" y="718.23" text-anchor="end" font-size="16.5" fill="#262626" stroke="#262626" stroke-width="0.3">1.8</text>
<path d="M575.4 1014.4h6M575.4 989.24h3M575.4 964.07h6M575.4 938.91h3M575.4 913.74h6M575.4 888.58h3M575.4 863.41h6M575.4 838.25h3M575.4 813.08h6M575.4 787.92h3M575.4 762.76h6M575.4 737.59h3M575.4 712.43h6" stroke="#262626" stroke-width="1.35" fill="none"/>
<text x="939.7" y="1020.2" text-anchor="start" font-size="16.5" fill="#828282" stroke="#828282" stroke-width="0.3">5.0</text>
<text x="939.7" y="967.1" text-anchor="start" font-size="16.5" fill="#828282" stroke="#828282" stroke-width="0.3">7.5</text>
<text x="939.7" y="914" text-anchor="start" font-size="16.5" fill="#828282" stroke="#828282" stroke-width="0.3">10.0</text>
<text x="939.7" y="860.9" text-anchor="start" font-size="16.5" fill="#828282" stroke="#828282" stroke-width="0.3">12.5</text>
<text x="939.7" y="807.8" text-anchor="start" font-size="16.5" fill="#828282" stroke="#828282" stroke-width="0.3">15.0</text>
<text x="939.7" y="754.7" text-anchor="start" font-size="16.5" fill="#828282" stroke="#828282" stroke-width="0.3">17.5</text>
<text x="939.7" y="701.6" text-anchor="start" font-size="16.5" fill="#828282" stroke="#828282" stroke-width="0.3">20.0</text>
<path d="M931.8 1014.4h-6M931.8 987.85h-3M931.8 961.3h-6M931.8 934.75h-3M931.8 908.2h-6M931.8 881.65h-3M931.8 855.1h-6M931.8 828.55h-3M931.8 802h-6M931.8 775.45h-3M931.8 748.9h-6M931.8 722.35h-3M931.8 695.8h-6" stroke="#828282" stroke-width="1.35" fill="none"/>
<path d="M837.3 750H872" stroke="#111" stroke-width="1.3"/><path d="M880 750L869.5 746.6V753.4Z" fill="#111"/>
<path d="M715 923.8H685" stroke="#111" stroke-width="1.3"/><path d="M677 923.8L687.5 920.4V927.2Z" fill="#111"/>
<path d="M812.3 780H847.6" stroke="#3a5a20" stroke-width="2.2"/>
<rect x="827.02" y="777.02" width="5.95" height="5.95" fill="#3a5a20"/>
<text x="851.5" y="785.4" font-size="15.9" stroke="#111" stroke-width="0.3"><tspan font-style="italic">N</tspan><tspan font-style="italic" font-size="10.5" dy="4">t</tspan><tspan dy="-4"> = 90</tspan></text>
<path d="M812.3 802H847.6" stroke="#5d8438" stroke-width="2.2"/>
<circle cx="830" cy="802" r="3.2725" fill="#5d8438"/>
<text x="851.5" y="807.4" font-size="15.9" stroke="#111" stroke-width="0.3"><tspan font-style="italic">N</tspan><tspan font-style="italic" font-size="10.5" dy="4">t</tspan><tspan dy="-4"> = 180</tspan></text>
<path d="M812.3 824H847.6" stroke="#a4cb7c" stroke-width="2.2"/>
<path d="M830 819.7L834.19 826.99H825.81Z" fill="#a4cb7c"/>
<text x="851.5" y="829.4" font-size="15.9" stroke="#111" stroke-width="0.3"><tspan font-style="italic">N</tspan><tspan font-style="italic" font-size="10.5" dy="4">t</tspan><tspan dy="-4"> = 270</tspan></text>
<text x="835.6" y="849.6" font-size="15.9" stroke="#111" stroke-width="0.3">R<tspan font-size="10.5" dy="4">c</tspan><tspan dy="-4"> = 9.1 Ω</tspan></text>
<text x="837.3" y="871.7" font-size="15.9" stroke="#111" stroke-width="0.3">ΔT = 70 K</text>
<text x="753" y="1063" text-anchor="middle" font-size="17.6" stroke="#111" stroke-width="0.3"><tspan font-style="italic">L</tspan><tspan font-style="italic" font-size="11.6" dy="3.8">l</tspan><tspan dy="-3.8"> (mm)</tspan></text>
<text transform="translate(534 855) rotate(-90)" text-anchor="middle" font-size="17.6" stroke="#111" stroke-width="0.3"><tspan font-style="italic">P</tspan><tspan font-style="italic" font-size="11.6" dy="3.8">max</tspan><tspan dy="-3.8"> (µW)</tspan></text>
<text transform="translate(990.6 854.3) rotate(-90)" text-anchor="middle" font-size="17.3" fill="#8e8e8e" stroke="#8e8e8e" stroke-width="0.3"><tspan font-style="italic">V</tspan><tspan font-style="italic" font-size="10.8" dy="3.5">oc</tspan><tspan dy="-3.5"> (mV)</tspan></text>
</g>
</svg></body></html>
